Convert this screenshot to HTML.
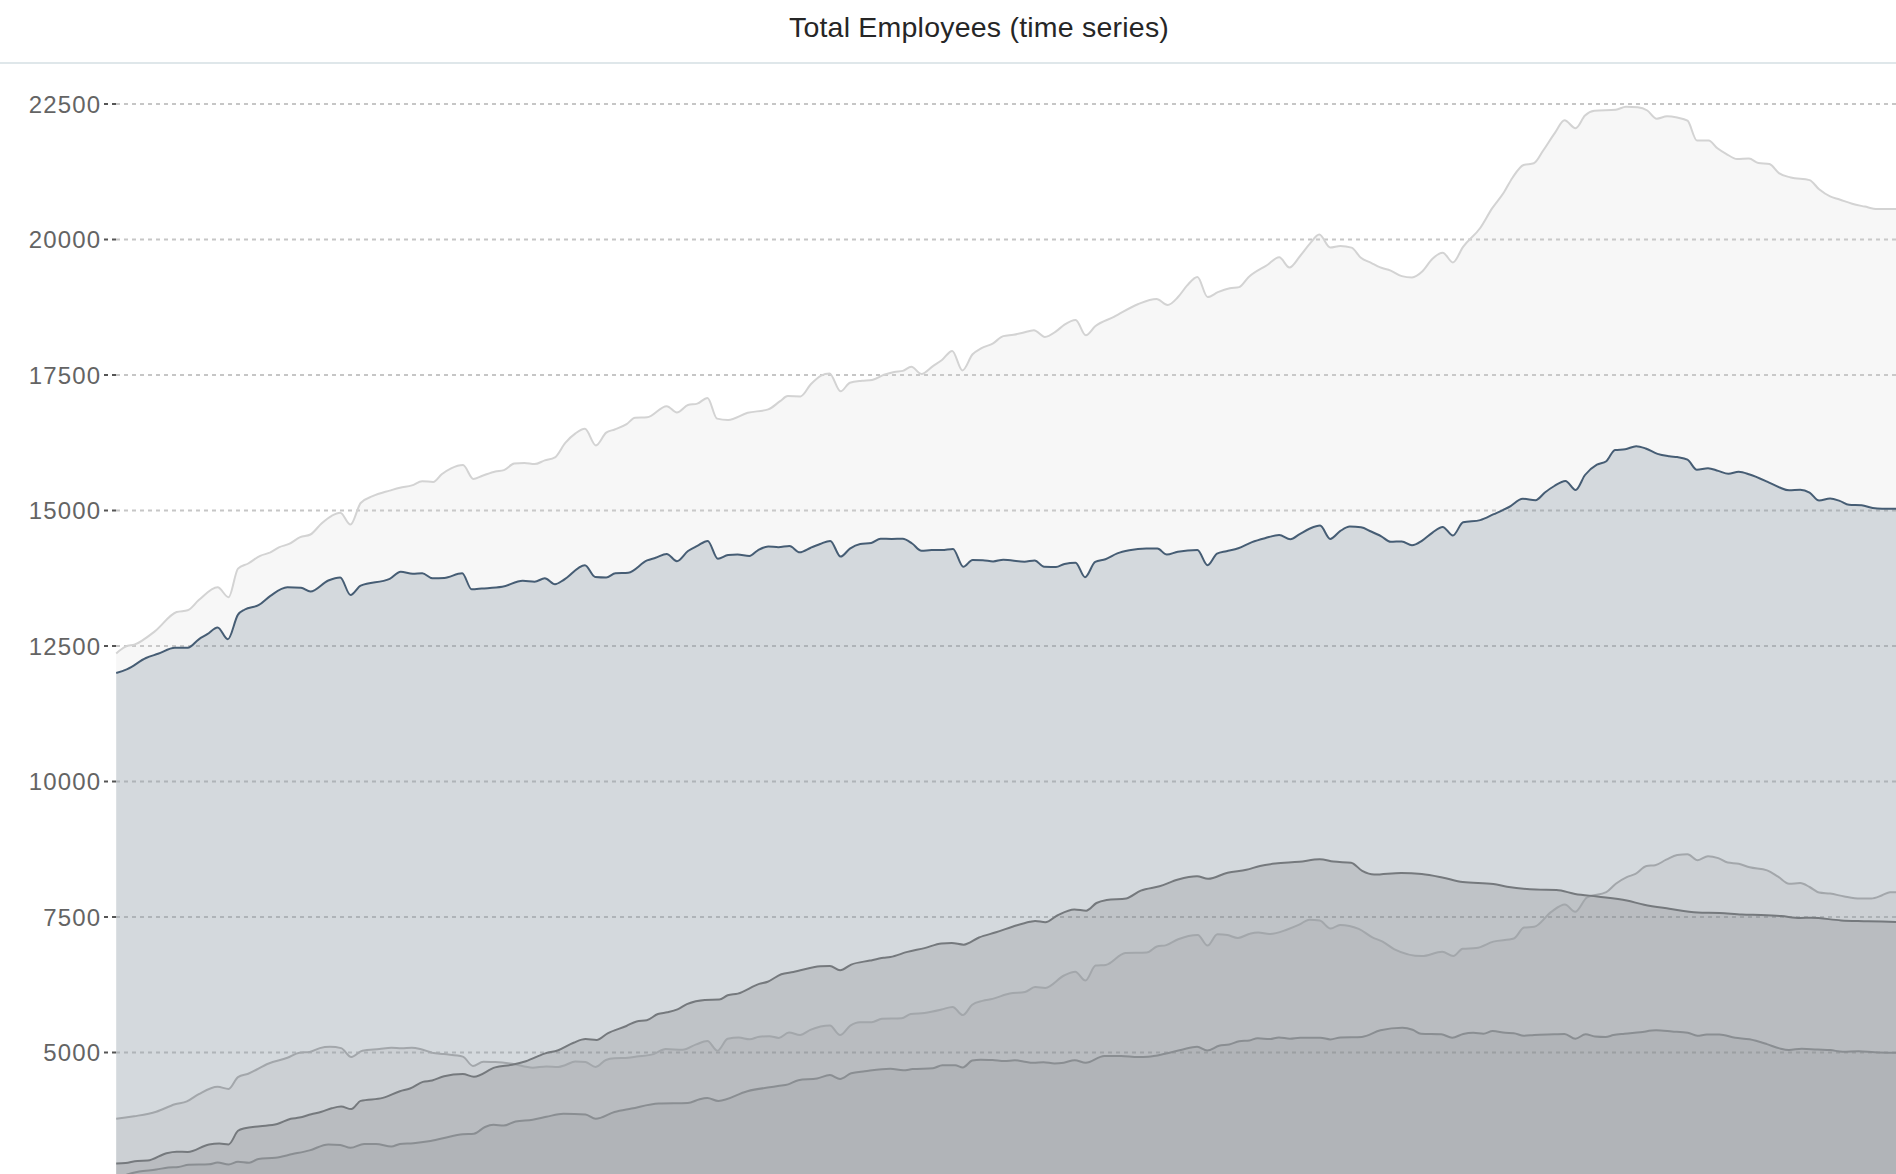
<!DOCTYPE html>
<html><head><meta charset="utf-8"><style>
html,body{margin:0;padding:0;background:#fff;}
body{width:1896px;height:1174px;overflow:hidden;position:relative;font-family:"Liberation Sans",sans-serif;}
.title{position:absolute;left:0;width:1958px;top:9px;text-align:center;font-size:28.5px;line-height:36px;color:#262626;letter-spacing:0.22px;}
.sep{position:absolute;left:0;top:62px;width:1896px;height:2px;background:#dfe7ea;}
.lbl{position:absolute;right:1796px;font-size:24px;line-height:30px;color:#646464;text-align:right;letter-spacing:1.1px;margin-right:-1.1px;}
svg{position:absolute;left:0;top:0;}
</style></head><body>
<div class="title">Total Employees (time series)</div>
<div class="sep"></div>
<div class="lbl" style="top:89.5px">22500</div>
<div class="lbl" style="top:225.0px">20000</div>
<div class="lbl" style="top:360.5px">17500</div>
<div class="lbl" style="top:496.0px">15000</div>
<div class="lbl" style="top:631.5px">12500</div>
<div class="lbl" style="top:767.0px">10000</div>
<div class="lbl" style="top:902.5px">7500</div>
<div class="lbl" style="top:1038.0px">5000</div>
<svg width="1896" height="1174" viewBox="0 0 1896 1174">
<line x1="104" y1="104.0" x2="116" y2="104.0" stroke="#555" stroke-width="2" stroke-dasharray="4 4"/>
<line x1="116" y1="104.0" x2="1896" y2="104.0" stroke="#c6c6c6" stroke-width="2" stroke-dasharray="4 4"/>
<line x1="104" y1="239.5" x2="116" y2="239.5" stroke="#555" stroke-width="2" stroke-dasharray="4 4"/>
<line x1="116" y1="239.5" x2="1896" y2="239.5" stroke="#c6c6c6" stroke-width="2" stroke-dasharray="4 4"/>
<line x1="104" y1="375.0" x2="116" y2="375.0" stroke="#555" stroke-width="2" stroke-dasharray="4 4"/>
<line x1="116" y1="375.0" x2="1896" y2="375.0" stroke="#c6c6c6" stroke-width="2" stroke-dasharray="4 4"/>
<line x1="104" y1="510.5" x2="116" y2="510.5" stroke="#555" stroke-width="2" stroke-dasharray="4 4"/>
<line x1="116" y1="510.5" x2="1896" y2="510.5" stroke="#c6c6c6" stroke-width="2" stroke-dasharray="4 4"/>
<line x1="104" y1="646.0" x2="116" y2="646.0" stroke="#555" stroke-width="2" stroke-dasharray="4 4"/>
<line x1="116" y1="646.0" x2="1896" y2="646.0" stroke="#c6c6c6" stroke-width="2" stroke-dasharray="4 4"/>
<line x1="104" y1="781.5" x2="116" y2="781.5" stroke="#555" stroke-width="2" stroke-dasharray="4 4"/>
<line x1="116" y1="781.5" x2="1896" y2="781.5" stroke="#c6c6c6" stroke-width="2" stroke-dasharray="4 4"/>
<line x1="104" y1="917.0" x2="116" y2="917.0" stroke="#555" stroke-width="2" stroke-dasharray="4 4"/>
<line x1="116" y1="917.0" x2="1896" y2="917.0" stroke="#c6c6c6" stroke-width="2" stroke-dasharray="4 4"/>
<line x1="104" y1="1052.5" x2="116" y2="1052.5" stroke="#555" stroke-width="2" stroke-dasharray="4 4"/>
<line x1="116" y1="1052.5" x2="1896" y2="1052.5" stroke="#c6c6c6" stroke-width="2" stroke-dasharray="4 4"/>
<path d="M116.2,653.4 C119.3,650.7 122.5,648.1 125.6,646.6 C128.7,645.1 131.9,645.6 135.0,644.4 C141.5,642.0 148.0,636.6 154.5,631.6 C161.9,626.0 169.3,614.3 176.7,612.0 C180.4,610.9 184.0,611.4 187.7,610.3 C191.4,609.2 195.1,603.2 198.8,600.1 C205.1,594.9 211.3,587.3 217.6,587.3 C221.3,587.3 224.9,597.2 228.6,597.2 C231.7,597.2 234.9,571.7 238.0,568.6 C241.4,565.2 244.8,565.4 248.2,563.5 C252.2,561.2 256.2,557.7 260.2,555.8 C263.6,554.2 267.0,554.0 270.4,552.4 C273.2,551.0 276.1,548.7 278.9,547.3 C282.3,545.7 285.7,545.5 289.1,543.9 C292.8,542.2 296.5,538.7 300.2,537.1 C303.6,535.7 307.0,536.2 310.4,534.5 C314.1,532.6 317.8,526.7 321.5,523.5 C324.9,520.5 328.3,517.6 331.7,515.8 C334.5,514.3 337.4,512.7 340.2,512.7 C343.6,512.7 347.1,524.6 350.5,524.6 C353.9,524.6 357.3,506.9 360.7,503.0 C364.7,498.5 368.6,498.1 372.6,496.2 C378.3,493.5 384.0,492.3 389.7,490.6 C393.1,489.6 396.5,488.5 399.9,487.7 C403.9,486.7 407.9,486.6 411.9,485.4 C415.3,484.3 418.8,481.2 422.2,481.2 C425.9,481.2 429.5,482.0 433.2,482.0 C436.0,482.0 438.9,476.5 441.7,474.3 C444.8,471.9 448.0,469.9 451.1,468.4 C455.1,466.5 459.0,465.0 463.0,465.0 C466.4,465.0 469.9,478.9 473.3,478.9 C476.1,478.9 479.0,477.0 481.8,476.0 C486.3,474.5 490.9,472.4 495.4,471.4 C498.2,470.8 501.1,471.0 503.9,470.1 C507.3,469.0 510.8,464.1 514.2,463.6 C517.6,463.1 521.0,462.9 524.4,462.9 C527.8,462.9 531.2,464.1 534.6,464.1 C538.0,464.1 541.4,461.5 544.8,460.4 C548.2,459.3 551.6,459.4 555.0,457.3 C558.4,455.2 561.9,446.8 565.3,442.8 C568.7,438.8 572.1,435.8 575.5,433.4 C578.6,431.2 581.8,428.8 584.9,428.8 C588.6,428.8 592.2,445.4 595.9,445.4 C599.3,445.4 602.8,435.1 606.2,432.6 C609.0,430.5 611.9,430.6 614.7,429.5 C618.7,427.9 622.6,426.6 626.6,424.1 C629.4,422.3 632.3,418.0 635.1,417.8 C639.1,417.5 643.1,417.6 647.1,417.3 C653.6,416.8 660.2,406.2 666.7,406.2 C670.1,406.2 673.5,412.5 676.9,412.5 C680.6,412.5 684.3,406.1 688.0,405.0 C691.1,404.1 694.2,404.5 697.3,403.6 C700.7,402.6 704.1,398.0 707.5,398.0 C710.7,398.0 713.8,417.9 717.0,418.6 C720.7,419.5 724.4,419.9 728.1,419.9 C734.6,419.9 741.2,414.5 747.7,412.8 C754.5,411.0 761.4,411.7 768.2,409.4 C772.2,408.1 776.1,403.9 780.1,401.2 C782.6,399.5 785.2,396.1 787.7,396.1 C792.0,396.1 796.2,396.4 800.5,396.4 C803.9,396.4 807.4,387.7 810.8,384.2 C814.2,380.8 817.6,377.4 821.0,375.6 C823.8,374.1 826.7,373.4 829.5,373.4 C833.2,373.4 836.9,391.3 840.6,391.3 C843.7,391.3 846.8,383.8 849.9,382.8 C853.9,381.5 857.9,381.3 861.9,380.8 C865.3,380.4 868.7,380.5 872.1,379.9 C876.1,379.2 880.0,376.2 884.0,374.8 C887.4,373.6 890.8,372.6 894.2,371.9 C897.1,371.3 899.9,371.6 902.8,370.9 C905.6,370.2 908.5,366.8 911.3,366.8 C914.7,366.8 918.1,373.9 921.5,373.9 C925.2,373.9 928.9,368.8 932.6,366.3 C935.7,364.2 938.9,362.4 942.0,360.0 C945.4,357.4 948.8,350.9 952.2,350.9 C955.6,350.9 959.0,370.5 962.4,370.5 C965.8,370.5 969.2,358.0 972.6,354.3 C975.4,351.2 978.3,350.1 981.1,348.4 C985.1,346.1 989.1,345.6 993.1,343.3 C996.5,341.3 999.9,337.0 1003.3,336.1 C1006.7,335.2 1010.1,335.3 1013.5,334.7 C1016.3,334.2 1019.1,333.7 1021.9,333.1 C1025.9,332.3 1029.9,330.2 1033.9,330.2 C1037.6,330.2 1041.2,336.9 1044.9,336.9 C1048.6,336.9 1052.3,333.9 1056.0,331.4 C1058.8,329.5 1061.7,326.4 1064.5,324.6 C1068.2,322.3 1071.9,320.0 1075.6,320.0 C1079.0,320.0 1082.4,335.3 1085.8,335.3 C1088.9,335.3 1092.1,328.8 1095.2,326.3 C1101.4,321.3 1107.7,320.1 1113.9,316.9 C1121.9,312.8 1129.8,307.3 1137.8,304.2 C1144.0,301.8 1150.3,299.0 1156.5,299.0 C1160.2,299.0 1163.9,305.0 1167.6,305.0 C1171.0,305.0 1174.4,300.8 1177.8,297.3 C1180.9,294.1 1184.1,288.7 1187.2,285.4 C1190.6,281.8 1194.0,276.9 1197.4,276.9 C1200.8,276.9 1204.2,297.0 1207.6,297.0 C1211.0,297.0 1214.5,293.6 1217.9,292.2 C1221.9,290.6 1225.8,289.2 1229.8,288.3 C1232.9,287.6 1236.1,287.9 1239.2,287.1 C1242.3,286.3 1245.4,280.1 1248.5,277.2 C1254.8,271.4 1261.0,269.1 1267.3,265.0 C1271.3,262.4 1275.2,257.3 1279.2,257.3 C1282.6,257.3 1286.0,267.5 1289.4,267.5 C1292.8,267.5 1296.3,260.5 1299.7,256.5 C1303.1,252.5 1306.5,247.5 1309.9,243.7 C1313.0,240.2 1316.2,234.6 1319.3,234.6 C1322.9,234.6 1326.6,247.6 1330.2,247.6 C1333.6,247.6 1337.0,245.9 1340.4,245.9 C1344.1,245.9 1347.8,246.5 1351.5,247.6 C1354.6,248.6 1357.8,255.3 1360.9,257.8 C1364.3,260.5 1367.7,261.2 1371.1,262.9 C1373.9,264.3 1376.8,266.0 1379.6,267.2 C1383.3,268.8 1387.0,269.1 1390.7,270.6 C1394.4,272.1 1398.1,275.2 1401.8,276.1 C1405.2,277.0 1408.6,277.4 1412.0,277.4 C1415.4,277.4 1418.8,274.6 1422.2,271.5 C1425.6,268.4 1429.1,261.8 1432.5,258.7 C1435.9,255.6 1439.3,252.7 1442.7,252.7 C1446.1,252.7 1449.5,262.4 1452.9,262.4 C1456.3,262.4 1459.7,251.5 1463.1,246.8 C1468.8,239.0 1474.5,236.1 1480.2,228.0 C1484.2,222.4 1488.1,214.4 1492.1,208.4 C1496.1,202.4 1500.0,198.4 1504.0,192.2 C1506.8,187.8 1509.7,181.8 1512.5,177.7 C1516.2,172.3 1519.9,166.2 1523.6,165.0 C1527.0,163.9 1530.4,164.4 1533.8,163.3 C1536.9,162.3 1540.1,155.0 1543.2,150.5 C1547.2,144.8 1551.1,138.1 1555.1,132.6 C1558.2,128.2 1561.4,120.3 1564.5,120.3 C1568.2,120.3 1571.9,128.3 1575.6,128.3 C1578.7,128.3 1581.9,118.5 1585.0,115.6 C1588.1,112.7 1591.2,111.1 1594.3,110.8 C1601.5,110.1 1608.6,110.4 1615.8,109.7 C1619.2,109.4 1622.6,106.7 1626.0,106.7 C1629.9,106.7 1633.9,106.9 1637.8,107.3 C1641.0,107.6 1644.1,108.6 1647.3,110.5 C1650.4,112.4 1653.6,118.7 1656.7,118.7 C1660.1,118.7 1663.6,116.3 1667.0,116.3 C1670.4,116.3 1673.8,116.9 1677.2,117.6 C1680.6,118.3 1684.1,118.6 1687.5,120.7 C1690.6,122.6 1693.8,140.4 1696.9,140.4 C1700.8,140.4 1704.8,140.4 1708.7,140.4 C1711.6,140.4 1714.5,146.1 1717.4,148.3 C1720.3,150.5 1723.2,152.2 1726.1,153.8 C1729.8,155.9 1733.4,159.0 1737.1,159.0 C1741.0,159.0 1745.0,158.6 1748.9,158.6 C1752.1,158.6 1755.2,162.4 1758.4,163.0 C1762.1,163.7 1765.7,163.4 1769.4,164.1 C1772.6,164.7 1775.7,170.9 1778.9,173.1 C1782.8,175.8 1786.8,176.4 1790.7,177.5 C1797.0,179.2 1803.3,178.4 1809.6,180.1 C1812.8,181.0 1815.9,186.7 1819.1,189.3 C1822.8,192.3 1826.4,194.7 1830.1,196.4 C1833.3,197.9 1836.4,198.4 1839.6,199.5 C1843.8,200.9 1848.0,202.6 1852.2,203.8 C1856.4,205.0 1860.6,205.7 1864.8,206.6 C1869.0,207.5 1873.2,209.0 1877.4,209.0 C1883.6,209.0 1889.8,209.0 1896.0,209.0 L1896.0,1200 L116.2,1200 Z" fill="#d7d7d7" fill-opacity="0.2"/>
<path d="M116.2,673.0 C119.9,671.9 123.6,670.7 127.3,669.1 C133.5,666.3 139.8,660.8 146.0,658.0 C150.0,656.2 154.0,655.2 158.0,653.8 C163.7,651.8 169.3,647.8 175.0,647.8 C179.2,647.8 183.5,647.8 187.7,647.8 C191.4,647.8 195.1,641.8 198.8,639.3 C201.6,637.4 204.5,636.0 207.3,634.2 C210.7,632.0 214.2,627.4 217.6,627.4 C221.0,627.4 224.4,639.3 227.8,639.3 C231.2,639.3 234.6,619.4 238.0,614.6 C240.3,611.4 242.5,610.9 244.8,609.5 C249.4,606.7 253.9,607.8 258.5,605.2 C262.5,602.9 266.4,598.5 270.4,595.8 C276.1,592.0 281.7,587.3 287.4,587.3 C291.9,587.3 296.5,587.4 301.0,587.7 C304.1,587.9 307.3,591.6 310.4,591.6 C316.4,591.6 322.3,582.9 328.3,580.5 C332.3,578.9 336.2,577.5 340.2,577.5 C343.6,577.5 347.1,595.0 350.5,595.0 C353.9,595.0 357.3,587.2 360.7,585.6 C370.4,581.1 380.0,583.3 389.7,578.8 C393.4,577.1 397.0,571.7 400.7,571.7 C404.7,571.7 408.8,573.7 412.8,573.7 C415.9,573.7 419.1,573.2 422.2,573.2 C425.6,573.2 429.0,578.3 432.4,578.3 C436.4,578.3 440.3,578.2 444.3,577.9 C450.3,577.5 456.2,573.2 462.2,573.2 C465.3,573.2 468.5,589.3 471.6,589.3 C475.0,589.3 478.4,588.8 481.8,588.5 C488.6,588.0 495.4,587.9 502.2,586.8 C509.0,585.7 515.9,580.8 522.7,580.8 C526.7,580.8 530.6,581.7 534.6,581.7 C538.0,581.7 541.4,578.3 544.8,578.3 C548.2,578.3 551.6,584.2 555.0,584.2 C557.9,584.2 560.7,581.6 563.6,580.0 C570.7,576.1 577.8,565.2 584.9,565.2 C588.3,565.2 591.7,576.6 595.1,576.9 C598.8,577.2 602.5,577.4 606.2,577.4 C609.3,577.4 612.4,573.4 615.5,573.2 C619.8,572.9 624.0,573.0 628.3,572.7 C634.6,572.2 640.8,563.0 647.1,560.4 C649.9,559.2 652.8,558.7 655.6,557.8 C659.3,556.6 663.0,553.9 666.7,553.9 C670.1,553.9 673.5,561.2 676.9,561.2 C680.6,561.2 684.3,553.7 688.0,551.0 C691.1,548.8 694.2,547.5 697.3,545.9 C700.8,544.1 704.2,540.9 707.7,540.9 C711.1,540.9 714.5,558.8 717.9,558.8 C721.3,558.8 724.7,555.5 728.1,555.1 C731.2,554.8 734.4,554.6 737.5,554.6 C741.5,554.6 745.4,555.9 749.4,555.9 C752.2,555.9 755.1,551.8 757.9,550.3 C761.3,548.5 764.8,546.4 768.2,546.4 C771.6,546.4 775.0,547.2 778.4,547.2 C782.1,547.2 785.8,546.0 789.5,546.0 C792.9,546.0 796.3,552.3 799.7,552.3 C803.4,552.3 807.1,549.2 810.8,547.7 C813.9,546.4 817.0,545.1 820.1,544.0 C823.5,542.8 826.9,540.9 830.3,540.9 C833.7,540.9 837.2,556.6 840.6,556.6 C843.7,556.6 846.8,550.7 849.9,548.6 C853.3,546.3 856.8,544.6 860.2,544.0 C863.9,543.3 867.5,543.7 871.2,543.0 C874.3,542.4 877.5,538.7 880.6,538.7 C884.3,538.7 888.0,538.9 891.7,538.9 C895.4,538.9 899.1,538.7 902.8,538.7 C905.9,538.7 909.0,541.5 912.1,543.5 C915.2,545.5 918.4,550.8 921.5,550.8 C924.9,550.8 928.3,550.0 931.7,550.0 C935.1,550.0 938.5,550.0 941.9,550.0 C945.6,550.0 949.3,548.9 953.0,548.9 C956.4,548.9 959.9,566.8 963.3,566.8 C966.4,566.8 969.5,560.0 972.6,560.0 C976.0,560.0 979.4,560.1 982.8,560.2 C986.2,560.3 989.7,561.4 993.1,561.4 C996.5,561.4 999.9,559.7 1003.3,559.7 C1010.4,559.7 1017.4,561.7 1024.5,561.7 C1027.9,561.7 1031.3,560.5 1034.7,560.5 C1037.8,560.5 1041.0,566.7 1044.1,566.8 C1048.1,566.9 1052.0,567.0 1056.0,567.0 C1058.8,567.0 1061.7,564.5 1064.5,563.9 C1068.2,563.1 1071.9,562.7 1075.6,562.7 C1078.7,562.7 1081.9,577.2 1085.0,577.2 C1088.4,577.2 1091.8,563.6 1095.2,561.9 C1098.6,560.2 1102.0,560.5 1105.4,559.3 C1109.4,557.8 1113.3,554.9 1117.3,553.4 C1121.3,551.9 1125.3,551.1 1129.3,550.3 C1135.0,549.2 1140.6,548.6 1146.3,548.6 C1150.0,548.6 1153.7,548.6 1157.4,548.6 C1160.5,548.6 1163.7,554.6 1166.8,554.6 C1170.5,554.6 1174.1,552.3 1177.8,551.7 C1184.3,550.6 1190.9,550.0 1197.4,550.0 C1200.8,550.0 1204.2,565.3 1207.6,565.3 C1210.7,565.3 1213.9,555.4 1217.0,553.7 C1220.1,552.0 1223.3,552.0 1226.4,551.2 C1230.4,550.2 1234.3,549.7 1238.3,548.3 C1242.9,546.7 1247.4,543.8 1252.0,542.1 C1256.5,540.4 1261.1,539.2 1265.6,538.0 C1270.1,536.8 1274.7,535.0 1279.2,535.0 C1282.9,535.0 1286.6,539.2 1290.3,539.2 C1293.4,539.2 1296.6,535.8 1299.7,534.1 C1303.1,532.2 1306.5,529.9 1309.9,528.5 C1313.3,527.1 1316.7,525.6 1320.1,525.6 C1323.5,525.6 1326.8,538.9 1330.2,538.9 C1333.6,538.9 1337.0,533.0 1340.4,530.9 C1343.5,529.0 1346.7,526.6 1349.8,526.6 C1353.5,526.6 1357.2,526.8 1360.9,527.3 C1364.3,527.7 1367.7,530.0 1371.1,531.5 C1374.5,533.0 1377.9,534.5 1381.3,536.3 C1384.4,538.0 1387.6,541.8 1390.7,541.8 C1394.4,541.8 1398.1,541.4 1401.8,541.4 C1405.2,541.4 1408.6,545.3 1412.0,545.3 C1415.4,545.3 1418.8,542.7 1422.2,540.6 C1425.6,538.5 1429.1,534.9 1432.5,532.6 C1435.9,530.3 1439.3,526.9 1442.7,526.9 C1446.1,526.9 1449.5,535.5 1452.9,535.5 C1456.3,535.5 1459.7,523.2 1463.1,522.3 C1468.8,520.8 1474.5,521.6 1480.2,520.1 C1484.7,518.9 1489.3,516.2 1493.8,514.2 C1498.9,511.9 1504.0,509.7 1509.1,507.0 C1513.7,504.5 1518.2,498.8 1522.8,498.8 C1527.0,498.8 1531.3,500.2 1535.5,500.2 C1538.6,500.2 1541.8,494.9 1544.9,492.5 C1548.0,490.1 1551.2,487.8 1554.3,486.0 C1558.0,483.8 1561.7,480.9 1565.4,480.9 C1568.8,480.9 1572.2,490.0 1575.6,490.0 C1578.7,490.0 1581.9,479.0 1585.0,475.0 C1589.0,469.9 1592.9,467.0 1596.9,464.7 C1600.0,462.9 1603.2,463.5 1606.3,461.2 C1609.2,459.0 1612.1,450.4 1615.0,450.0 C1618.4,449.5 1621.8,449.8 1625.2,449.3 C1628.9,448.8 1632.5,446.2 1636.2,446.2 C1639.4,446.2 1642.5,447.4 1645.7,448.5 C1649.6,449.8 1653.6,452.6 1657.5,453.9 C1661.4,455.2 1665.4,455.7 1669.3,456.3 C1671.9,456.7 1674.6,456.7 1677.2,457.1 C1680.6,457.7 1684.1,457.9 1687.5,459.6 C1690.6,461.1 1693.8,469.8 1696.9,469.8 C1700.6,469.8 1704.3,468.2 1708.0,468.2 C1711.4,468.2 1714.8,470.0 1718.2,470.9 C1721.6,471.8 1725.0,473.8 1728.4,473.8 C1731.8,473.8 1735.3,471.7 1738.7,471.7 C1742.4,471.7 1746.0,473.3 1749.7,474.5 C1755.5,476.3 1761.3,479.0 1767.1,481.6 C1771.3,483.5 1775.5,485.9 1779.7,487.5 C1782.8,488.7 1786.0,490.3 1789.1,490.3 C1792.8,490.3 1796.5,489.8 1800.2,489.8 C1803.3,489.8 1806.5,490.9 1809.6,492.7 C1812.8,494.5 1815.9,500.6 1819.1,500.6 C1822.8,500.6 1826.4,498.5 1830.1,498.5 C1833.3,498.5 1836.4,499.8 1839.6,500.9 C1842.7,501.9 1845.9,504.6 1849.0,504.8 C1853.2,505.1 1857.4,505.0 1861.6,505.3 C1865.3,505.6 1869.0,507.4 1872.7,508.0 C1875.8,508.5 1879.0,508.7 1882.1,508.7 C1886.7,508.7 1891.4,508.7 1896.0,508.7 L1896.0,1200 L116.2,1200 Z" fill="#41596f" fill-opacity="0.19"/>
<path d="M116.2,1118.8 C122.2,1118.1 128.1,1117.3 134.1,1116.3 C141.5,1115.0 148.8,1114.0 156.2,1111.7 C162.5,1109.8 168.7,1106.2 175.0,1104.3 C179.0,1103.1 182.9,1103.1 186.9,1101.4 C190.9,1099.7 194.8,1096.2 198.8,1094.1 C205.1,1090.8 211.3,1086.8 217.6,1086.8 C221.3,1086.8 224.9,1089.0 228.6,1089.0 C231.7,1089.0 234.9,1079.2 238.0,1077.1 C241.4,1074.8 244.8,1075.0 248.2,1073.7 C255.0,1071.0 261.9,1066.2 268.7,1063.5 C274.9,1061.0 281.2,1060.2 287.4,1057.8 C291.4,1056.3 295.4,1053.2 299.4,1052.7 C302.8,1052.2 306.2,1052.5 309.6,1052.0 C313.0,1051.5 316.4,1049.0 319.8,1048.1 C323.2,1047.2 326.6,1046.8 330.0,1046.8 C333.7,1046.8 337.4,1047.2 341.1,1048.1 C344.5,1048.9 347.9,1057.0 351.3,1057.0 C355.0,1057.0 358.7,1051.4 362.4,1050.7 C368.1,1049.6 373.7,1049.6 379.4,1049.0 C383.4,1048.6 387.4,1047.8 391.4,1047.8 C394.8,1047.8 398.2,1048.3 401.6,1048.3 C405.0,1048.3 408.4,1047.8 411.8,1047.8 C414.6,1047.8 417.4,1048.4 420.2,1049.0 C424.2,1049.8 428.2,1051.8 432.2,1052.7 C436.2,1053.5 440.1,1053.6 444.1,1054.1 C450.3,1054.9 456.6,1054.9 462.8,1056.6 C466.2,1057.5 469.6,1066.0 473.0,1066.0 C476.4,1066.0 479.9,1061.7 483.3,1061.7 C487.3,1061.7 491.2,1061.9 495.2,1062.1 C500.9,1062.4 506.5,1063.0 512.2,1063.8 C519.0,1064.8 525.9,1067.7 532.7,1067.7 C537.2,1067.7 541.8,1066.5 546.3,1066.5 C550.3,1066.5 554.2,1066.9 558.2,1066.9 C560.5,1066.9 562.7,1065.9 565.0,1065.2 C568.4,1064.2 571.9,1061.4 575.3,1061.4 C578.7,1061.4 582.1,1061.6 585.5,1062.1 C588.9,1062.6 592.3,1066.9 595.7,1066.9 C599.1,1066.9 602.5,1061.3 605.9,1060.0 C608.8,1058.9 611.6,1058.5 614.5,1058.3 C619.0,1058.0 623.6,1058.1 628.1,1057.8 C630.9,1057.6 633.8,1057.0 636.6,1056.6 C642.3,1055.8 648.0,1055.8 653.7,1054.1 C657.7,1052.9 661.6,1049.0 665.6,1049.0 C671.3,1049.0 676.9,1049.8 682.6,1049.8 C687.1,1049.8 691.7,1046.0 696.2,1044.4 C699.9,1043.1 703.6,1041.0 707.3,1041.0 C710.7,1041.0 714.1,1050.7 717.5,1050.7 C720.9,1050.7 724.3,1039.5 727.7,1038.8 C731.4,1038.0 735.0,1037.6 738.7,1037.6 C742.4,1037.6 746.1,1039.3 749.8,1039.3 C752.9,1039.3 756.1,1037.0 759.2,1036.7 C762.6,1036.4 766.0,1036.2 769.4,1036.2 C772.5,1036.2 775.7,1037.9 778.8,1037.9 C782.2,1037.9 785.6,1032.5 789.0,1032.5 C792.7,1032.5 796.4,1035.0 800.1,1035.0 C803.5,1035.0 806.9,1031.3 810.3,1029.9 C816.8,1027.3 823.4,1025.6 829.9,1025.6 C833.3,1025.6 836.7,1035.0 840.1,1035.0 C843.5,1035.0 846.9,1027.7 850.3,1025.6 C853.4,1023.6 856.6,1022.2 859.7,1022.2 C863.7,1022.2 867.6,1022.2 871.6,1022.2 C875.0,1022.2 878.5,1019.0 881.9,1018.8 C888.4,1018.5 895.0,1018.6 901.5,1018.3 C904.6,1018.1 907.7,1014.6 910.8,1014.1 C915.4,1013.3 919.9,1013.5 924.5,1012.9 C930.2,1012.1 935.8,1010.8 941.5,1009.5 C945.2,1008.7 948.9,1006.9 952.6,1006.9 C956.0,1006.9 959.4,1015.1 962.8,1015.1 C965.9,1015.1 969.1,1007.0 972.2,1004.7 C975.6,1002.2 979.0,1001.9 982.4,1000.9 C985.8,999.9 989.2,999.7 992.6,998.9 C998.3,997.5 1004.0,994.7 1009.7,993.6 C1014.8,992.6 1019.9,993.1 1025.0,992.1 C1028.4,991.4 1031.7,987.0 1035.1,987.0 C1038.5,987.0 1041.9,987.9 1045.3,987.9 C1051.6,987.9 1057.8,978.4 1064.1,975.5 C1067.8,973.8 1071.5,971.7 1075.2,971.7 C1078.6,971.7 1082.0,980.6 1085.4,980.6 C1088.8,980.6 1092.2,966.1 1095.6,965.6 C1099.0,965.1 1102.4,965.4 1105.8,964.9 C1112.3,964.0 1118.9,953.3 1125.4,953.0 C1132.5,952.7 1139.6,952.8 1146.7,952.5 C1150.1,952.3 1153.5,947.5 1156.9,946.5 C1160.0,945.6 1163.2,946.0 1166.3,945.1 C1170.3,943.9 1174.2,940.8 1178.2,939.2 C1184.7,936.6 1191.3,934.9 1197.8,934.9 C1201.0,934.9 1204.3,945.6 1207.5,945.6 C1210.8,945.6 1214.1,934.2 1217.4,934.2 C1220.8,934.2 1224.2,934.5 1227.6,935.1 C1231.0,935.7 1234.5,938.0 1237.9,938.0 C1241.9,938.0 1245.8,934.6 1249.8,933.7 C1252.6,933.0 1255.5,932.5 1258.3,932.5 C1262.0,932.5 1265.7,934.0 1269.4,934.0 C1275.4,934.0 1281.3,931.5 1287.3,929.5 C1291.3,928.1 1295.2,926.5 1299.2,924.7 C1302.6,923.2 1306.0,919.7 1309.4,919.7 C1312.8,919.7 1316.3,920.0 1319.7,920.6 C1323.4,921.2 1327.0,928.6 1330.7,928.6 C1333.8,928.6 1337.0,924.9 1340.1,924.9 C1346.3,924.9 1352.5,926.2 1358.7,928.8 C1363.3,930.7 1367.8,935.0 1372.4,937.3 C1375.8,939.0 1379.2,939.8 1382.6,941.6 C1386.6,943.7 1390.5,947.3 1394.5,949.3 C1403.6,953.8 1412.7,956.1 1421.8,956.1 C1428.6,956.1 1435.4,951.8 1442.2,951.8 C1445.9,951.8 1449.6,956.1 1453.3,956.1 C1456.4,956.1 1459.6,949.1 1462.7,948.8 C1467.2,948.3 1471.8,948.6 1476.3,948.1 C1482.0,947.5 1487.6,943.2 1493.3,941.6 C1500.1,939.7 1507.0,940.6 1513.8,938.5 C1517.2,937.5 1520.6,928.1 1524.0,927.6 C1527.4,927.1 1530.8,927.3 1534.2,926.8 C1539.9,925.9 1545.6,915.7 1551.3,911.8 C1555.8,908.7 1560.4,904.5 1564.9,904.5 C1568.3,904.5 1571.7,911.8 1575.1,911.8 C1579.1,911.8 1583.1,899.4 1587.1,897.3 C1593.5,893.9 1599.9,895.6 1606.3,892.2 C1609.5,890.5 1612.6,886.2 1615.8,883.8 C1619.5,881.0 1623.1,878.8 1626.8,877.1 C1629.7,875.7 1632.6,875.4 1635.5,873.9 C1639.2,872.0 1642.8,866.7 1646.5,866.0 C1649.4,865.5 1652.3,865.7 1655.2,865.2 C1658.9,864.5 1662.5,861.4 1666.2,859.7 C1669.9,858.0 1673.5,855.6 1677.2,855.0 C1680.6,854.5 1684.1,854.2 1687.5,854.2 C1690.9,854.2 1694.3,860.2 1697.7,860.2 C1701.1,860.2 1704.6,856.2 1708.0,856.2 C1711.4,856.2 1714.8,857.0 1718.2,858.1 C1721.4,859.2 1724.5,861.9 1727.7,862.6 C1731.4,863.4 1735.0,863.0 1738.7,863.8 C1742.4,864.6 1746.0,866.3 1749.7,867.3 C1755.5,868.8 1761.3,868.3 1767.1,870.4 C1770.8,871.7 1774.4,874.5 1778.1,876.7 C1781.8,878.9 1785.4,883.8 1789.1,883.8 C1792.8,883.8 1796.5,883.0 1800.2,883.0 C1803.3,883.0 1806.5,885.4 1809.6,887.0 C1812.8,888.6 1815.9,891.9 1819.1,892.5 C1822.8,893.2 1826.4,893.1 1830.1,893.6 C1834.8,894.3 1839.6,895.6 1844.3,896.4 C1849.5,897.3 1854.8,898.5 1860.0,898.5 C1863.7,898.5 1867.4,898.5 1871.1,898.5 C1874.8,898.5 1878.4,896.6 1882.1,895.3 C1884.7,894.4 1887.4,892.2 1890.0,892.2 C1892.0,892.2 1894.0,892.2 1896.0,892.2 L1896.0,1200 L116.2,1200 Z" fill="#a2a4a6" fill-opacity="0.16"/>
<path d="M116.2,1163.6 C119.3,1163.5 122.5,1163.4 125.6,1163.1 C129.6,1162.7 133.5,1161.1 137.5,1160.9 C140.9,1160.7 144.3,1160.8 147.7,1160.6 C154.0,1160.2 160.2,1154.7 166.5,1153.2 C169.9,1152.4 173.3,1151.7 176.7,1151.7 C180.4,1151.7 184.0,1152.0 187.7,1152.0 C194.8,1152.0 201.9,1145.6 209.0,1144.4 C212.4,1143.8 215.9,1143.5 219.3,1143.5 C222.4,1143.5 225.5,1144.4 228.6,1144.4 C231.7,1144.4 234.9,1133.2 238.0,1130.8 C240.3,1129.1 242.5,1128.8 244.8,1128.2 C249.9,1126.9 255.1,1126.9 260.2,1126.2 C265.9,1125.5 271.5,1125.5 277.2,1124.0 C281.7,1122.8 286.3,1119.9 290.8,1118.8 C293.7,1118.1 296.5,1118.2 299.4,1117.6 C303.4,1116.8 307.3,1115.2 311.3,1114.2 C314.7,1113.3 318.1,1112.7 321.5,1111.7 C324.9,1110.7 328.3,1109.2 331.7,1108.3 C334.8,1107.5 338.0,1106.6 341.1,1106.6 C344.5,1106.6 347.9,1109.1 351.3,1109.1 C354.4,1109.1 357.6,1101.8 360.7,1100.9 C368.1,1098.9 375.4,1099.9 382.8,1097.9 C388.5,1096.4 394.2,1093.0 399.9,1091.2 C403.3,1090.1 406.6,1089.8 410.0,1088.5 C414.3,1086.9 418.5,1083.2 422.8,1081.9 C425.9,1081.0 429.1,1081.3 432.2,1080.5 C436.2,1079.5 440.1,1077.1 444.1,1076.2 C450.3,1074.7 456.6,1074.0 462.8,1074.0 C466.5,1074.0 470.2,1076.7 473.9,1076.7 C481.0,1076.7 488.1,1069.4 495.2,1067.4 C500.9,1065.8 506.5,1066.0 512.2,1064.8 C516.8,1063.8 521.3,1062.7 525.9,1061.2 C532.1,1059.2 538.4,1055.6 544.6,1053.6 C549.1,1052.2 553.7,1051.8 558.2,1050.2 C563.3,1048.3 568.5,1044.7 573.6,1042.7 C577.6,1041.2 581.5,1039.1 585.5,1039.1 C589.2,1039.1 592.9,1039.9 596.6,1039.9 C600.3,1039.9 603.9,1035.2 607.6,1033.3 C613.9,1030.0 620.1,1028.7 626.4,1026.0 C629.8,1024.5 633.2,1022.1 636.6,1021.4 C640.0,1020.7 643.4,1021.0 646.8,1020.3 C650.5,1019.5 654.2,1015.3 657.9,1014.0 C661.0,1012.9 664.2,1013.0 667.3,1012.3 C670.7,1011.5 674.1,1010.8 677.5,1009.4 C680.6,1008.1 683.8,1005.6 686.9,1004.2 C692.9,1001.5 698.8,1000.1 704.8,999.9 C709.6,999.7 714.5,999.8 719.3,999.6 C722.1,999.5 724.9,996.2 727.7,995.3 C731.1,994.2 734.5,994.5 737.9,993.6 C745.0,991.8 752.1,986.1 759.2,983.9 C762.0,983.0 764.9,982.8 767.7,981.7 C772.2,980.0 776.8,975.8 781.3,974.2 C785.3,972.8 789.3,972.8 793.3,972.0 C802.4,970.3 811.4,966.9 820.5,966.3 C823.6,966.1 826.8,966.0 829.9,966.0 C833.3,966.0 836.7,970.3 840.1,970.3 C843.8,970.3 847.5,966.1 851.2,964.6 C857.4,962.1 863.7,961.9 869.9,960.6 C874.5,959.6 879.0,958.5 883.6,957.8 C885.9,957.5 888.1,957.4 890.4,957.0 C896.1,956.0 901.7,953.4 907.4,951.9 C913.1,950.4 918.8,949.5 924.5,948.1 C930.2,946.7 935.8,944.1 941.5,943.5 C944.9,943.2 948.3,943.0 951.7,943.0 C955.7,943.0 959.7,944.7 963.7,944.7 C968.8,944.7 973.9,939.5 979.0,937.5 C984.7,935.3 990.3,934.1 996.0,932.3 C1001.7,930.5 1007.4,928.3 1013.1,926.5 C1018.7,924.8 1024.4,922.9 1030.0,921.8 C1031.7,921.5 1033.4,920.9 1035.1,920.9 C1038.5,920.9 1041.9,922.3 1045.3,922.3 C1049.3,922.3 1053.3,917.4 1057.3,915.5 C1063.0,912.8 1068.6,909.5 1074.3,909.5 C1078.3,909.5 1082.2,910.7 1086.2,910.7 C1089.6,910.7 1093.1,904.8 1096.5,903.0 C1099.9,901.2 1103.3,900.6 1106.7,900.0 C1113.2,898.9 1119.8,899.5 1126.3,898.4 C1131.1,897.6 1136.0,892.5 1140.8,890.6 C1147.0,888.1 1153.3,888.1 1159.5,886.3 C1165.7,884.4 1172.0,881.2 1178.2,879.5 C1184.5,877.8 1190.7,876.3 1197.0,876.3 C1200.7,876.3 1204.4,878.8 1208.1,878.8 C1214.6,878.8 1221.1,874.2 1227.6,872.7 C1233.9,871.2 1240.1,871.2 1246.4,869.8 C1250.9,868.8 1255.5,866.9 1260.0,865.9 C1265.1,864.7 1270.3,864.1 1275.4,863.5 C1283.3,862.5 1291.3,862.6 1299.2,861.8 C1306.0,861.1 1312.9,859.3 1319.7,859.3 C1324.2,859.3 1328.8,861.0 1333.3,861.6 C1339.2,862.3 1345.2,862.0 1351.1,862.7 C1354.8,863.2 1358.5,868.9 1362.2,870.9 C1366.2,873.0 1370.1,874.6 1374.1,874.6 C1383.2,874.6 1392.2,872.9 1401.3,872.9 C1408.1,872.9 1415.0,873.3 1421.8,874.0 C1428.6,874.7 1435.4,876.1 1442.2,877.4 C1449.0,878.7 1455.9,881.1 1462.7,882.0 C1472.9,883.3 1483.1,882.7 1493.3,884.0 C1497.9,884.6 1502.4,885.9 1507.0,886.7 C1516.6,888.3 1526.3,889.2 1535.9,889.6 C1542.7,889.9 1549.6,889.7 1556.4,890.0 C1562.6,890.2 1568.9,892.9 1575.1,893.9 C1582.5,895.1 1589.9,895.6 1597.3,896.5 C1607.1,897.7 1617.0,898.3 1626.8,900.4 C1632.6,901.6 1638.3,903.6 1644.1,904.8 C1652.5,906.6 1660.9,907.5 1669.3,908.7 C1678.8,910.1 1688.2,912.1 1697.7,912.5 C1705.1,912.8 1712.4,912.7 1719.8,913.0 C1727.1,913.3 1734.5,914.3 1741.8,914.6 C1748.1,914.9 1754.5,914.8 1760.8,915.0 C1767.6,915.3 1774.4,915.6 1781.2,916.1 C1787.5,916.6 1793.9,918.0 1800.2,918.0 C1803.9,918.0 1807.5,917.7 1811.2,917.7 C1821.2,917.7 1831.1,919.8 1841.1,920.4 C1850.0,920.9 1859.0,920.9 1867.9,921.2 C1877.3,921.5 1886.6,921.7 1896.0,922.0 L1896.0,1200 L116.2,1200 Z" fill="#6e7072" fill-opacity="0.2"/>
<path d="M116.0,1179.0 C119.8,1177.4 123.5,1175.7 127.3,1174.5 C131.3,1173.2 135.2,1172.4 139.2,1171.6 C144.9,1170.5 150.5,1170.5 156.2,1169.6 C160.2,1169.0 164.2,1167.8 168.2,1167.4 C171.6,1167.1 175.0,1167.2 178.4,1166.9 C181.8,1166.6 185.2,1165.0 188.6,1164.8 C195.4,1164.5 202.2,1164.6 209.0,1164.3 C211.9,1164.2 214.7,1162.6 217.6,1162.6 C221.3,1162.6 224.9,1164.5 228.6,1164.5 C231.7,1164.5 234.9,1161.8 238.0,1161.8 C241.7,1161.8 245.4,1162.8 249.1,1162.8 C252.2,1162.8 255.4,1159.3 258.5,1158.9 C264.2,1158.1 269.8,1158.5 275.5,1157.7 C281.2,1156.9 286.8,1155.3 292.5,1154.1 C298.2,1152.9 303.9,1151.9 309.6,1150.4 C315.8,1148.7 322.1,1144.4 328.3,1144.4 C332.3,1144.4 336.2,1144.6 340.2,1144.9 C343.6,1145.2 347.1,1147.8 350.5,1147.8 C355.0,1147.8 359.6,1143.9 364.1,1143.9 C368.1,1143.9 372.0,1143.9 376.0,1143.9 C381.1,1143.9 386.3,1146.6 391.4,1146.6 C394.2,1146.6 397.1,1144.2 399.9,1143.9 C404.4,1143.4 409.0,1143.6 413.5,1143.2 C418.6,1142.8 423.6,1142.2 428.7,1141.3 C433.8,1140.4 439.0,1139.0 444.1,1137.9 C450.3,1136.6 456.6,1134.8 462.8,1134.2 C466.5,1133.9 470.2,1134.0 473.9,1133.7 C477.6,1133.4 481.3,1128.5 485.0,1127.0 C487.8,1125.8 490.7,1124.8 493.5,1124.8 C496.9,1124.8 500.3,1125.6 503.7,1125.6 C507.7,1125.6 511.6,1122.2 515.6,1121.4 C521.3,1120.3 527.0,1120.6 532.7,1119.7 C537.2,1119.0 541.8,1117.7 546.3,1116.8 C552.0,1115.7 557.7,1113.7 563.4,1113.7 C570.8,1113.7 578.1,1114.0 585.5,1114.6 C588.9,1114.9 592.3,1118.8 595.7,1118.8 C602.0,1118.8 608.2,1113.7 614.5,1112.0 C620.2,1110.4 625.8,1109.7 631.5,1108.6 C640.6,1106.8 649.7,1103.8 658.8,1103.5 C668.4,1103.2 678.1,1103.3 687.7,1103.0 C691.7,1102.9 695.7,1100.1 699.7,1099.2 C702.2,1098.6 704.8,1098.0 707.3,1098.0 C711.0,1098.0 714.7,1100.9 718.4,1100.9 C728.0,1100.9 737.7,1093.6 747.3,1091.2 C757.5,1088.6 767.7,1087.8 777.9,1086.1 C781.3,1085.5 784.8,1085.4 788.2,1084.4 C791.6,1083.4 795.0,1080.8 798.4,1080.2 C804.6,1079.1 810.9,1079.6 817.1,1078.5 C821.4,1077.7 825.6,1075.1 829.9,1075.1 C833.3,1075.1 836.7,1079.0 840.1,1079.0 C843.8,1079.0 847.5,1074.4 851.2,1073.3 C855.7,1072.0 860.3,1071.9 864.8,1071.3 C873.3,1070.2 881.9,1068.7 890.4,1068.7 C894.7,1068.7 898.9,1070.3 903.2,1070.3 C906.3,1070.3 909.4,1069.4 912.5,1069.1 C919.3,1068.5 926.2,1068.8 933.0,1068.2 C936.1,1067.9 939.3,1065.2 942.4,1065.2 C946.6,1065.2 950.9,1065.2 955.1,1065.2 C957.7,1065.2 960.2,1067.4 962.8,1067.4 C965.9,1067.4 969.1,1061.3 972.2,1060.6 C975.0,1060.0 977.9,1059.7 980.7,1059.7 C984.7,1059.7 988.6,1059.9 992.6,1060.1 C996.6,1060.3 1000.5,1061.1 1004.5,1061.1 C1007.9,1061.1 1011.4,1060.2 1014.8,1060.2 C1017.6,1060.2 1020.5,1061.0 1023.3,1061.4 C1026.7,1061.9 1030.1,1062.8 1033.5,1062.8 C1036.8,1062.8 1040.2,1062.2 1043.5,1062.2 C1047.2,1062.2 1050.8,1063.5 1054.5,1063.5 C1057.6,1063.5 1060.7,1063.2 1063.8,1062.7 C1067.4,1062.1 1071.1,1060.2 1074.7,1060.2 C1078.4,1060.2 1082.0,1062.7 1085.7,1062.7 C1091.9,1062.7 1098.1,1055.9 1104.3,1055.9 C1109.9,1055.9 1115.5,1055.9 1121.1,1055.9 C1126.7,1055.9 1132.4,1057.1 1138.0,1057.1 C1141.4,1057.1 1144.7,1057.0 1148.1,1056.8 C1153.7,1056.5 1159.4,1055.0 1165.0,1053.8 C1170.6,1052.6 1176.3,1050.9 1181.9,1049.7 C1187.0,1048.6 1192.0,1046.7 1197.1,1046.7 C1200.5,1046.7 1203.8,1050.5 1207.2,1050.5 C1211.1,1050.5 1215.1,1046.8 1219.0,1045.8 C1222.4,1044.9 1225.8,1045.3 1229.2,1044.5 C1232.6,1043.8 1235.9,1041.9 1239.3,1041.3 C1242.7,1040.7 1246.0,1041.0 1249.4,1040.4 C1252.2,1039.9 1255.0,1038.2 1257.8,1038.2 C1261.8,1038.2 1265.7,1039.1 1269.7,1039.1 C1272.8,1039.1 1275.8,1037.4 1278.9,1037.4 C1282.6,1037.4 1286.2,1038.7 1289.9,1038.7 C1293.3,1038.7 1296.6,1037.7 1300.0,1037.7 C1306.8,1037.7 1313.5,1037.7 1320.3,1037.7 C1323.7,1037.7 1327.0,1039.4 1330.4,1039.4 C1333.8,1039.4 1337.1,1037.6 1340.5,1037.4 C1347.6,1037.1 1354.8,1037.2 1361.9,1036.9 C1368.1,1036.6 1374.3,1031.7 1380.5,1030.3 C1387.8,1028.6 1395.1,1027.8 1402.4,1027.8 C1405.8,1027.8 1409.2,1028.6 1412.6,1029.8 C1415.4,1030.8 1418.2,1033.5 1421.0,1033.7 C1427.8,1034.1 1434.5,1033.9 1441.3,1034.3 C1444.9,1034.5 1448.6,1037.7 1452.2,1037.7 C1455.9,1037.7 1459.5,1034.8 1463.2,1034.0 C1466.6,1033.2 1469.9,1032.8 1473.3,1032.8 C1476.7,1032.8 1480.1,1033.7 1483.5,1033.7 C1486.6,1033.7 1489.6,1031.1 1492.7,1031.1 C1496.9,1031.1 1501.2,1032.5 1505.4,1032.8 C1508.2,1033.0 1511.0,1032.9 1513.8,1033.2 C1517.2,1033.5 1520.6,1035.7 1524.0,1035.7 C1527.4,1035.7 1530.7,1035.1 1534.1,1034.9 C1540.8,1034.5 1547.6,1034.5 1554.3,1034.3 C1557.7,1034.2 1561.1,1034.0 1564.5,1034.0 C1568.1,1034.0 1571.8,1038.7 1575.4,1038.7 C1578.8,1038.7 1582.2,1034.3 1585.6,1034.3 C1588.7,1034.3 1591.8,1036.2 1594.9,1036.5 C1598.4,1036.8 1602.0,1037.0 1605.5,1037.0 C1608.1,1037.0 1610.8,1035.6 1613.4,1035.1 C1617.1,1034.4 1620.8,1034.2 1624.5,1033.8 C1629.8,1033.2 1635.0,1032.8 1640.3,1032.2 C1645.6,1031.6 1650.8,1030.3 1656.1,1030.3 C1661.4,1030.3 1666.7,1031.0 1672.0,1031.4 C1677.3,1031.8 1682.5,1031.8 1687.8,1032.7 C1691.0,1033.2 1694.1,1035.7 1697.3,1035.7 C1700.5,1035.7 1703.6,1034.6 1706.8,1034.6 C1711.0,1034.6 1715.2,1034.6 1719.4,1034.6 C1724.7,1034.6 1729.9,1037.0 1735.2,1037.8 C1740.0,1038.5 1744.7,1038.4 1749.5,1039.3 C1755.3,1040.4 1761.1,1042.3 1766.9,1044.1 C1771.1,1045.4 1775.3,1047.4 1779.5,1048.4 C1782.7,1049.1 1785.8,1049.9 1789.0,1049.9 C1793.2,1049.9 1797.5,1048.8 1801.7,1048.8 C1807.0,1048.8 1812.2,1049.4 1817.5,1049.6 C1821.7,1049.8 1826.0,1049.8 1830.2,1050.1 C1834.4,1050.4 1838.6,1051.7 1842.8,1051.7 C1848.1,1051.7 1853.4,1051.2 1858.7,1051.2 C1864.0,1051.2 1869.2,1052.1 1874.5,1052.3 C1881.7,1052.6 1888.8,1052.7 1896.0,1052.8 L1896.0,1200 L116.0,1200 Z" fill="#858789" fill-opacity="0.14"/>
<path d="M116.2,653.4 C119.3,650.7 122.5,648.1 125.6,646.6 C128.7,645.1 131.9,645.6 135.0,644.4 C141.5,642.0 148.0,636.6 154.5,631.6 C161.9,626.0 169.3,614.3 176.7,612.0 C180.4,610.9 184.0,611.4 187.7,610.3 C191.4,609.2 195.1,603.2 198.8,600.1 C205.1,594.9 211.3,587.3 217.6,587.3 C221.3,587.3 224.9,597.2 228.6,597.2 C231.7,597.2 234.9,571.7 238.0,568.6 C241.4,565.2 244.8,565.4 248.2,563.5 C252.2,561.2 256.2,557.7 260.2,555.8 C263.6,554.2 267.0,554.0 270.4,552.4 C273.2,551.0 276.1,548.7 278.9,547.3 C282.3,545.7 285.7,545.5 289.1,543.9 C292.8,542.2 296.5,538.7 300.2,537.1 C303.6,535.7 307.0,536.2 310.4,534.5 C314.1,532.6 317.8,526.7 321.5,523.5 C324.9,520.5 328.3,517.6 331.7,515.8 C334.5,514.3 337.4,512.7 340.2,512.7 C343.6,512.7 347.1,524.6 350.5,524.6 C353.9,524.6 357.3,506.9 360.7,503.0 C364.7,498.5 368.6,498.1 372.6,496.2 C378.3,493.5 384.0,492.3 389.7,490.6 C393.1,489.6 396.5,488.5 399.9,487.7 C403.9,486.7 407.9,486.6 411.9,485.4 C415.3,484.3 418.8,481.2 422.2,481.2 C425.9,481.2 429.5,482.0 433.2,482.0 C436.0,482.0 438.9,476.5 441.7,474.3 C444.8,471.9 448.0,469.9 451.1,468.4 C455.1,466.5 459.0,465.0 463.0,465.0 C466.4,465.0 469.9,478.9 473.3,478.9 C476.1,478.9 479.0,477.0 481.8,476.0 C486.3,474.5 490.9,472.4 495.4,471.4 C498.2,470.8 501.1,471.0 503.9,470.1 C507.3,469.0 510.8,464.1 514.2,463.6 C517.6,463.1 521.0,462.9 524.4,462.9 C527.8,462.9 531.2,464.1 534.6,464.1 C538.0,464.1 541.4,461.5 544.8,460.4 C548.2,459.3 551.6,459.4 555.0,457.3 C558.4,455.2 561.9,446.8 565.3,442.8 C568.7,438.8 572.1,435.8 575.5,433.4 C578.6,431.2 581.8,428.8 584.9,428.8 C588.6,428.8 592.2,445.4 595.9,445.4 C599.3,445.4 602.8,435.1 606.2,432.6 C609.0,430.5 611.9,430.6 614.7,429.5 C618.7,427.9 622.6,426.6 626.6,424.1 C629.4,422.3 632.3,418.0 635.1,417.8 C639.1,417.5 643.1,417.6 647.1,417.3 C653.6,416.8 660.2,406.2 666.7,406.2 C670.1,406.2 673.5,412.5 676.9,412.5 C680.6,412.5 684.3,406.1 688.0,405.0 C691.1,404.1 694.2,404.5 697.3,403.6 C700.7,402.6 704.1,398.0 707.5,398.0 C710.7,398.0 713.8,417.9 717.0,418.6 C720.7,419.5 724.4,419.9 728.1,419.9 C734.6,419.9 741.2,414.5 747.7,412.8 C754.5,411.0 761.4,411.7 768.2,409.4 C772.2,408.1 776.1,403.9 780.1,401.2 C782.6,399.5 785.2,396.1 787.7,396.1 C792.0,396.1 796.2,396.4 800.5,396.4 C803.9,396.4 807.4,387.7 810.8,384.2 C814.2,380.8 817.6,377.4 821.0,375.6 C823.8,374.1 826.7,373.4 829.5,373.4 C833.2,373.4 836.9,391.3 840.6,391.3 C843.7,391.3 846.8,383.8 849.9,382.8 C853.9,381.5 857.9,381.3 861.9,380.8 C865.3,380.4 868.7,380.5 872.1,379.9 C876.1,379.2 880.0,376.2 884.0,374.8 C887.4,373.6 890.8,372.6 894.2,371.9 C897.1,371.3 899.9,371.6 902.8,370.9 C905.6,370.2 908.5,366.8 911.3,366.8 C914.7,366.8 918.1,373.9 921.5,373.9 C925.2,373.9 928.9,368.8 932.6,366.3 C935.7,364.2 938.9,362.4 942.0,360.0 C945.4,357.4 948.8,350.9 952.2,350.9 C955.6,350.9 959.0,370.5 962.4,370.5 C965.8,370.5 969.2,358.0 972.6,354.3 C975.4,351.2 978.3,350.1 981.1,348.4 C985.1,346.1 989.1,345.6 993.1,343.3 C996.5,341.3 999.9,337.0 1003.3,336.1 C1006.7,335.2 1010.1,335.3 1013.5,334.7 C1016.3,334.2 1019.1,333.7 1021.9,333.1 C1025.9,332.3 1029.9,330.2 1033.9,330.2 C1037.6,330.2 1041.2,336.9 1044.9,336.9 C1048.6,336.9 1052.3,333.9 1056.0,331.4 C1058.8,329.5 1061.7,326.4 1064.5,324.6 C1068.2,322.3 1071.9,320.0 1075.6,320.0 C1079.0,320.0 1082.4,335.3 1085.8,335.3 C1088.9,335.3 1092.1,328.8 1095.2,326.3 C1101.4,321.3 1107.7,320.1 1113.9,316.9 C1121.9,312.8 1129.8,307.3 1137.8,304.2 C1144.0,301.8 1150.3,299.0 1156.5,299.0 C1160.2,299.0 1163.9,305.0 1167.6,305.0 C1171.0,305.0 1174.4,300.8 1177.8,297.3 C1180.9,294.1 1184.1,288.7 1187.2,285.4 C1190.6,281.8 1194.0,276.9 1197.4,276.9 C1200.8,276.9 1204.2,297.0 1207.6,297.0 C1211.0,297.0 1214.5,293.6 1217.9,292.2 C1221.9,290.6 1225.8,289.2 1229.8,288.3 C1232.9,287.6 1236.1,287.9 1239.2,287.1 C1242.3,286.3 1245.4,280.1 1248.5,277.2 C1254.8,271.4 1261.0,269.1 1267.3,265.0 C1271.3,262.4 1275.2,257.3 1279.2,257.3 C1282.6,257.3 1286.0,267.5 1289.4,267.5 C1292.8,267.5 1296.3,260.5 1299.7,256.5 C1303.1,252.5 1306.5,247.5 1309.9,243.7 C1313.0,240.2 1316.2,234.6 1319.3,234.6 C1322.9,234.6 1326.6,247.6 1330.2,247.6 C1333.6,247.6 1337.0,245.9 1340.4,245.9 C1344.1,245.9 1347.8,246.5 1351.5,247.6 C1354.6,248.6 1357.8,255.3 1360.9,257.8 C1364.3,260.5 1367.7,261.2 1371.1,262.9 C1373.9,264.3 1376.8,266.0 1379.6,267.2 C1383.3,268.8 1387.0,269.1 1390.7,270.6 C1394.4,272.1 1398.1,275.2 1401.8,276.1 C1405.2,277.0 1408.6,277.4 1412.0,277.4 C1415.4,277.4 1418.8,274.6 1422.2,271.5 C1425.6,268.4 1429.1,261.8 1432.5,258.7 C1435.9,255.6 1439.3,252.7 1442.7,252.7 C1446.1,252.7 1449.5,262.4 1452.9,262.4 C1456.3,262.4 1459.7,251.5 1463.1,246.8 C1468.8,239.0 1474.5,236.1 1480.2,228.0 C1484.2,222.4 1488.1,214.4 1492.1,208.4 C1496.1,202.4 1500.0,198.4 1504.0,192.2 C1506.8,187.8 1509.7,181.8 1512.5,177.7 C1516.2,172.3 1519.9,166.2 1523.6,165.0 C1527.0,163.9 1530.4,164.4 1533.8,163.3 C1536.9,162.3 1540.1,155.0 1543.2,150.5 C1547.2,144.8 1551.1,138.1 1555.1,132.6 C1558.2,128.2 1561.4,120.3 1564.5,120.3 C1568.2,120.3 1571.9,128.3 1575.6,128.3 C1578.7,128.3 1581.9,118.5 1585.0,115.6 C1588.1,112.7 1591.2,111.1 1594.3,110.8 C1601.5,110.1 1608.6,110.4 1615.8,109.7 C1619.2,109.4 1622.6,106.7 1626.0,106.7 C1629.9,106.7 1633.9,106.9 1637.8,107.3 C1641.0,107.6 1644.1,108.6 1647.3,110.5 C1650.4,112.4 1653.6,118.7 1656.7,118.7 C1660.1,118.7 1663.6,116.3 1667.0,116.3 C1670.4,116.3 1673.8,116.9 1677.2,117.6 C1680.6,118.3 1684.1,118.6 1687.5,120.7 C1690.6,122.6 1693.8,140.4 1696.9,140.4 C1700.8,140.4 1704.8,140.4 1708.7,140.4 C1711.6,140.4 1714.5,146.1 1717.4,148.3 C1720.3,150.5 1723.2,152.2 1726.1,153.8 C1729.8,155.9 1733.4,159.0 1737.1,159.0 C1741.0,159.0 1745.0,158.6 1748.9,158.6 C1752.1,158.6 1755.2,162.4 1758.4,163.0 C1762.1,163.7 1765.7,163.4 1769.4,164.1 C1772.6,164.7 1775.7,170.9 1778.9,173.1 C1782.8,175.8 1786.8,176.4 1790.7,177.5 C1797.0,179.2 1803.3,178.4 1809.6,180.1 C1812.8,181.0 1815.9,186.7 1819.1,189.3 C1822.8,192.3 1826.4,194.7 1830.1,196.4 C1833.3,197.9 1836.4,198.4 1839.6,199.5 C1843.8,200.9 1848.0,202.6 1852.2,203.8 C1856.4,205.0 1860.6,205.7 1864.8,206.6 C1869.0,207.5 1873.2,209.0 1877.4,209.0 C1883.6,209.0 1889.8,209.0 1896.0,209.0" fill="none" stroke="#d3d3d3" stroke-width="2" stroke-linejoin="round"/>
<path d="M116.2,673.0 C119.9,671.9 123.6,670.7 127.3,669.1 C133.5,666.3 139.8,660.8 146.0,658.0 C150.0,656.2 154.0,655.2 158.0,653.8 C163.7,651.8 169.3,647.8 175.0,647.8 C179.2,647.8 183.5,647.8 187.7,647.8 C191.4,647.8 195.1,641.8 198.8,639.3 C201.6,637.4 204.5,636.0 207.3,634.2 C210.7,632.0 214.2,627.4 217.6,627.4 C221.0,627.4 224.4,639.3 227.8,639.3 C231.2,639.3 234.6,619.4 238.0,614.6 C240.3,611.4 242.5,610.9 244.8,609.5 C249.4,606.7 253.9,607.8 258.5,605.2 C262.5,602.9 266.4,598.5 270.4,595.8 C276.1,592.0 281.7,587.3 287.4,587.3 C291.9,587.3 296.5,587.4 301.0,587.7 C304.1,587.9 307.3,591.6 310.4,591.6 C316.4,591.6 322.3,582.9 328.3,580.5 C332.3,578.9 336.2,577.5 340.2,577.5 C343.6,577.5 347.1,595.0 350.5,595.0 C353.9,595.0 357.3,587.2 360.7,585.6 C370.4,581.1 380.0,583.3 389.7,578.8 C393.4,577.1 397.0,571.7 400.7,571.7 C404.7,571.7 408.8,573.7 412.8,573.7 C415.9,573.7 419.1,573.2 422.2,573.2 C425.6,573.2 429.0,578.3 432.4,578.3 C436.4,578.3 440.3,578.2 444.3,577.9 C450.3,577.5 456.2,573.2 462.2,573.2 C465.3,573.2 468.5,589.3 471.6,589.3 C475.0,589.3 478.4,588.8 481.8,588.5 C488.6,588.0 495.4,587.9 502.2,586.8 C509.0,585.7 515.9,580.8 522.7,580.8 C526.7,580.8 530.6,581.7 534.6,581.7 C538.0,581.7 541.4,578.3 544.8,578.3 C548.2,578.3 551.6,584.2 555.0,584.2 C557.9,584.2 560.7,581.6 563.6,580.0 C570.7,576.1 577.8,565.2 584.9,565.2 C588.3,565.2 591.7,576.6 595.1,576.9 C598.8,577.2 602.5,577.4 606.2,577.4 C609.3,577.4 612.4,573.4 615.5,573.2 C619.8,572.9 624.0,573.0 628.3,572.7 C634.6,572.2 640.8,563.0 647.1,560.4 C649.9,559.2 652.8,558.7 655.6,557.8 C659.3,556.6 663.0,553.9 666.7,553.9 C670.1,553.9 673.5,561.2 676.9,561.2 C680.6,561.2 684.3,553.7 688.0,551.0 C691.1,548.8 694.2,547.5 697.3,545.9 C700.8,544.1 704.2,540.9 707.7,540.9 C711.1,540.9 714.5,558.8 717.9,558.8 C721.3,558.8 724.7,555.5 728.1,555.1 C731.2,554.8 734.4,554.6 737.5,554.6 C741.5,554.6 745.4,555.9 749.4,555.9 C752.2,555.9 755.1,551.8 757.9,550.3 C761.3,548.5 764.8,546.4 768.2,546.4 C771.6,546.4 775.0,547.2 778.4,547.2 C782.1,547.2 785.8,546.0 789.5,546.0 C792.9,546.0 796.3,552.3 799.7,552.3 C803.4,552.3 807.1,549.2 810.8,547.7 C813.9,546.4 817.0,545.1 820.1,544.0 C823.5,542.8 826.9,540.9 830.3,540.9 C833.7,540.9 837.2,556.6 840.6,556.6 C843.7,556.6 846.8,550.7 849.9,548.6 C853.3,546.3 856.8,544.6 860.2,544.0 C863.9,543.3 867.5,543.7 871.2,543.0 C874.3,542.4 877.5,538.7 880.6,538.7 C884.3,538.7 888.0,538.9 891.7,538.9 C895.4,538.9 899.1,538.7 902.8,538.7 C905.9,538.7 909.0,541.5 912.1,543.5 C915.2,545.5 918.4,550.8 921.5,550.8 C924.9,550.8 928.3,550.0 931.7,550.0 C935.1,550.0 938.5,550.0 941.9,550.0 C945.6,550.0 949.3,548.9 953.0,548.9 C956.4,548.9 959.9,566.8 963.3,566.8 C966.4,566.8 969.5,560.0 972.6,560.0 C976.0,560.0 979.4,560.1 982.8,560.2 C986.2,560.3 989.7,561.4 993.1,561.4 C996.5,561.4 999.9,559.7 1003.3,559.7 C1010.4,559.7 1017.4,561.7 1024.5,561.7 C1027.9,561.7 1031.3,560.5 1034.7,560.5 C1037.8,560.5 1041.0,566.7 1044.1,566.8 C1048.1,566.9 1052.0,567.0 1056.0,567.0 C1058.8,567.0 1061.7,564.5 1064.5,563.9 C1068.2,563.1 1071.9,562.7 1075.6,562.7 C1078.7,562.7 1081.9,577.2 1085.0,577.2 C1088.4,577.2 1091.8,563.6 1095.2,561.9 C1098.6,560.2 1102.0,560.5 1105.4,559.3 C1109.4,557.8 1113.3,554.9 1117.3,553.4 C1121.3,551.9 1125.3,551.1 1129.3,550.3 C1135.0,549.2 1140.6,548.6 1146.3,548.6 C1150.0,548.6 1153.7,548.6 1157.4,548.6 C1160.5,548.6 1163.7,554.6 1166.8,554.6 C1170.5,554.6 1174.1,552.3 1177.8,551.7 C1184.3,550.6 1190.9,550.0 1197.4,550.0 C1200.8,550.0 1204.2,565.3 1207.6,565.3 C1210.7,565.3 1213.9,555.4 1217.0,553.7 C1220.1,552.0 1223.3,552.0 1226.4,551.2 C1230.4,550.2 1234.3,549.7 1238.3,548.3 C1242.9,546.7 1247.4,543.8 1252.0,542.1 C1256.5,540.4 1261.1,539.2 1265.6,538.0 C1270.1,536.8 1274.7,535.0 1279.2,535.0 C1282.9,535.0 1286.6,539.2 1290.3,539.2 C1293.4,539.2 1296.6,535.8 1299.7,534.1 C1303.1,532.2 1306.5,529.9 1309.9,528.5 C1313.3,527.1 1316.7,525.6 1320.1,525.6 C1323.5,525.6 1326.8,538.9 1330.2,538.9 C1333.6,538.9 1337.0,533.0 1340.4,530.9 C1343.5,529.0 1346.7,526.6 1349.8,526.6 C1353.5,526.6 1357.2,526.8 1360.9,527.3 C1364.3,527.7 1367.7,530.0 1371.1,531.5 C1374.5,533.0 1377.9,534.5 1381.3,536.3 C1384.4,538.0 1387.6,541.8 1390.7,541.8 C1394.4,541.8 1398.1,541.4 1401.8,541.4 C1405.2,541.4 1408.6,545.3 1412.0,545.3 C1415.4,545.3 1418.8,542.7 1422.2,540.6 C1425.6,538.5 1429.1,534.9 1432.5,532.6 C1435.9,530.3 1439.3,526.9 1442.7,526.9 C1446.1,526.9 1449.5,535.5 1452.9,535.5 C1456.3,535.5 1459.7,523.2 1463.1,522.3 C1468.8,520.8 1474.5,521.6 1480.2,520.1 C1484.7,518.9 1489.3,516.2 1493.8,514.2 C1498.9,511.9 1504.0,509.7 1509.1,507.0 C1513.7,504.5 1518.2,498.8 1522.8,498.8 C1527.0,498.8 1531.3,500.2 1535.5,500.2 C1538.6,500.2 1541.8,494.9 1544.9,492.5 C1548.0,490.1 1551.2,487.8 1554.3,486.0 C1558.0,483.8 1561.7,480.9 1565.4,480.9 C1568.8,480.9 1572.2,490.0 1575.6,490.0 C1578.7,490.0 1581.9,479.0 1585.0,475.0 C1589.0,469.9 1592.9,467.0 1596.9,464.7 C1600.0,462.9 1603.2,463.5 1606.3,461.2 C1609.2,459.0 1612.1,450.4 1615.0,450.0 C1618.4,449.5 1621.8,449.8 1625.2,449.3 C1628.9,448.8 1632.5,446.2 1636.2,446.2 C1639.4,446.2 1642.5,447.4 1645.7,448.5 C1649.6,449.8 1653.6,452.6 1657.5,453.9 C1661.4,455.2 1665.4,455.7 1669.3,456.3 C1671.9,456.7 1674.6,456.7 1677.2,457.1 C1680.6,457.7 1684.1,457.9 1687.5,459.6 C1690.6,461.1 1693.8,469.8 1696.9,469.8 C1700.6,469.8 1704.3,468.2 1708.0,468.2 C1711.4,468.2 1714.8,470.0 1718.2,470.9 C1721.6,471.8 1725.0,473.8 1728.4,473.8 C1731.8,473.8 1735.3,471.7 1738.7,471.7 C1742.4,471.7 1746.0,473.3 1749.7,474.5 C1755.5,476.3 1761.3,479.0 1767.1,481.6 C1771.3,483.5 1775.5,485.9 1779.7,487.5 C1782.8,488.7 1786.0,490.3 1789.1,490.3 C1792.8,490.3 1796.5,489.8 1800.2,489.8 C1803.3,489.8 1806.5,490.9 1809.6,492.7 C1812.8,494.5 1815.9,500.6 1819.1,500.6 C1822.8,500.6 1826.4,498.5 1830.1,498.5 C1833.3,498.5 1836.4,499.8 1839.6,500.9 C1842.7,501.9 1845.9,504.6 1849.0,504.8 C1853.2,505.1 1857.4,505.0 1861.6,505.3 C1865.3,505.6 1869.0,507.4 1872.7,508.0 C1875.8,508.5 1879.0,508.7 1882.1,508.7 C1886.7,508.7 1891.4,508.7 1896.0,508.7" fill="none" stroke="#465d74" stroke-width="2" stroke-linejoin="round"/>
<path d="M116.2,1118.8 C122.2,1118.1 128.1,1117.3 134.1,1116.3 C141.5,1115.0 148.8,1114.0 156.2,1111.7 C162.5,1109.8 168.7,1106.2 175.0,1104.3 C179.0,1103.1 182.9,1103.1 186.9,1101.4 C190.9,1099.7 194.8,1096.2 198.8,1094.1 C205.1,1090.8 211.3,1086.8 217.6,1086.8 C221.3,1086.8 224.9,1089.0 228.6,1089.0 C231.7,1089.0 234.9,1079.2 238.0,1077.1 C241.4,1074.8 244.8,1075.0 248.2,1073.7 C255.0,1071.0 261.9,1066.2 268.7,1063.5 C274.9,1061.0 281.2,1060.2 287.4,1057.8 C291.4,1056.3 295.4,1053.2 299.4,1052.7 C302.8,1052.2 306.2,1052.5 309.6,1052.0 C313.0,1051.5 316.4,1049.0 319.8,1048.1 C323.2,1047.2 326.6,1046.8 330.0,1046.8 C333.7,1046.8 337.4,1047.2 341.1,1048.1 C344.5,1048.9 347.9,1057.0 351.3,1057.0 C355.0,1057.0 358.7,1051.4 362.4,1050.7 C368.1,1049.6 373.7,1049.6 379.4,1049.0 C383.4,1048.6 387.4,1047.8 391.4,1047.8 C394.8,1047.8 398.2,1048.3 401.6,1048.3 C405.0,1048.3 408.4,1047.8 411.8,1047.8 C414.6,1047.8 417.4,1048.4 420.2,1049.0 C424.2,1049.8 428.2,1051.8 432.2,1052.7 C436.2,1053.5 440.1,1053.6 444.1,1054.1 C450.3,1054.9 456.6,1054.9 462.8,1056.6 C466.2,1057.5 469.6,1066.0 473.0,1066.0 C476.4,1066.0 479.9,1061.7 483.3,1061.7 C487.3,1061.7 491.2,1061.9 495.2,1062.1 C500.9,1062.4 506.5,1063.0 512.2,1063.8 C519.0,1064.8 525.9,1067.7 532.7,1067.7 C537.2,1067.7 541.8,1066.5 546.3,1066.5 C550.3,1066.5 554.2,1066.9 558.2,1066.9 C560.5,1066.9 562.7,1065.9 565.0,1065.2 C568.4,1064.2 571.9,1061.4 575.3,1061.4 C578.7,1061.4 582.1,1061.6 585.5,1062.1 C588.9,1062.6 592.3,1066.9 595.7,1066.9 C599.1,1066.9 602.5,1061.3 605.9,1060.0 C608.8,1058.9 611.6,1058.5 614.5,1058.3 C619.0,1058.0 623.6,1058.1 628.1,1057.8 C630.9,1057.6 633.8,1057.0 636.6,1056.6 C642.3,1055.8 648.0,1055.8 653.7,1054.1 C657.7,1052.9 661.6,1049.0 665.6,1049.0 C671.3,1049.0 676.9,1049.8 682.6,1049.8 C687.1,1049.8 691.7,1046.0 696.2,1044.4 C699.9,1043.1 703.6,1041.0 707.3,1041.0 C710.7,1041.0 714.1,1050.7 717.5,1050.7 C720.9,1050.7 724.3,1039.5 727.7,1038.8 C731.4,1038.0 735.0,1037.6 738.7,1037.6 C742.4,1037.6 746.1,1039.3 749.8,1039.3 C752.9,1039.3 756.1,1037.0 759.2,1036.7 C762.6,1036.4 766.0,1036.2 769.4,1036.2 C772.5,1036.2 775.7,1037.9 778.8,1037.9 C782.2,1037.9 785.6,1032.5 789.0,1032.5 C792.7,1032.5 796.4,1035.0 800.1,1035.0 C803.5,1035.0 806.9,1031.3 810.3,1029.9 C816.8,1027.3 823.4,1025.6 829.9,1025.6 C833.3,1025.6 836.7,1035.0 840.1,1035.0 C843.5,1035.0 846.9,1027.7 850.3,1025.6 C853.4,1023.6 856.6,1022.2 859.7,1022.2 C863.7,1022.2 867.6,1022.2 871.6,1022.2 C875.0,1022.2 878.5,1019.0 881.9,1018.8 C888.4,1018.5 895.0,1018.6 901.5,1018.3 C904.6,1018.1 907.7,1014.6 910.8,1014.1 C915.4,1013.3 919.9,1013.5 924.5,1012.9 C930.2,1012.1 935.8,1010.8 941.5,1009.5 C945.2,1008.7 948.9,1006.9 952.6,1006.9 C956.0,1006.9 959.4,1015.1 962.8,1015.1 C965.9,1015.1 969.1,1007.0 972.2,1004.7 C975.6,1002.2 979.0,1001.9 982.4,1000.9 C985.8,999.9 989.2,999.7 992.6,998.9 C998.3,997.5 1004.0,994.7 1009.7,993.6 C1014.8,992.6 1019.9,993.1 1025.0,992.1 C1028.4,991.4 1031.7,987.0 1035.1,987.0 C1038.5,987.0 1041.9,987.9 1045.3,987.9 C1051.6,987.9 1057.8,978.4 1064.1,975.5 C1067.8,973.8 1071.5,971.7 1075.2,971.7 C1078.6,971.7 1082.0,980.6 1085.4,980.6 C1088.8,980.6 1092.2,966.1 1095.6,965.6 C1099.0,965.1 1102.4,965.4 1105.8,964.9 C1112.3,964.0 1118.9,953.3 1125.4,953.0 C1132.5,952.7 1139.6,952.8 1146.7,952.5 C1150.1,952.3 1153.5,947.5 1156.9,946.5 C1160.0,945.6 1163.2,946.0 1166.3,945.1 C1170.3,943.9 1174.2,940.8 1178.2,939.2 C1184.7,936.6 1191.3,934.9 1197.8,934.9 C1201.0,934.9 1204.3,945.6 1207.5,945.6 C1210.8,945.6 1214.1,934.2 1217.4,934.2 C1220.8,934.2 1224.2,934.5 1227.6,935.1 C1231.0,935.7 1234.5,938.0 1237.9,938.0 C1241.9,938.0 1245.8,934.6 1249.8,933.7 C1252.6,933.0 1255.5,932.5 1258.3,932.5 C1262.0,932.5 1265.7,934.0 1269.4,934.0 C1275.4,934.0 1281.3,931.5 1287.3,929.5 C1291.3,928.1 1295.2,926.5 1299.2,924.7 C1302.6,923.2 1306.0,919.7 1309.4,919.7 C1312.8,919.7 1316.3,920.0 1319.7,920.6 C1323.4,921.2 1327.0,928.6 1330.7,928.6 C1333.8,928.6 1337.0,924.9 1340.1,924.9 C1346.3,924.9 1352.5,926.2 1358.7,928.8 C1363.3,930.7 1367.8,935.0 1372.4,937.3 C1375.8,939.0 1379.2,939.8 1382.6,941.6 C1386.6,943.7 1390.5,947.3 1394.5,949.3 C1403.6,953.8 1412.7,956.1 1421.8,956.1 C1428.6,956.1 1435.4,951.8 1442.2,951.8 C1445.9,951.8 1449.6,956.1 1453.3,956.1 C1456.4,956.1 1459.6,949.1 1462.7,948.8 C1467.2,948.3 1471.8,948.6 1476.3,948.1 C1482.0,947.5 1487.6,943.2 1493.3,941.6 C1500.1,939.7 1507.0,940.6 1513.8,938.5 C1517.2,937.5 1520.6,928.1 1524.0,927.6 C1527.4,927.1 1530.8,927.3 1534.2,926.8 C1539.9,925.9 1545.6,915.7 1551.3,911.8 C1555.8,908.7 1560.4,904.5 1564.9,904.5 C1568.3,904.5 1571.7,911.8 1575.1,911.8 C1579.1,911.8 1583.1,899.4 1587.1,897.3 C1593.5,893.9 1599.9,895.6 1606.3,892.2 C1609.5,890.5 1612.6,886.2 1615.8,883.8 C1619.5,881.0 1623.1,878.8 1626.8,877.1 C1629.7,875.7 1632.6,875.4 1635.5,873.9 C1639.2,872.0 1642.8,866.7 1646.5,866.0 C1649.4,865.5 1652.3,865.7 1655.2,865.2 C1658.9,864.5 1662.5,861.4 1666.2,859.7 C1669.9,858.0 1673.5,855.6 1677.2,855.0 C1680.6,854.5 1684.1,854.2 1687.5,854.2 C1690.9,854.2 1694.3,860.2 1697.7,860.2 C1701.1,860.2 1704.6,856.2 1708.0,856.2 C1711.4,856.2 1714.8,857.0 1718.2,858.1 C1721.4,859.2 1724.5,861.9 1727.7,862.6 C1731.4,863.4 1735.0,863.0 1738.7,863.8 C1742.4,864.6 1746.0,866.3 1749.7,867.3 C1755.5,868.8 1761.3,868.3 1767.1,870.4 C1770.8,871.7 1774.4,874.5 1778.1,876.7 C1781.8,878.9 1785.4,883.8 1789.1,883.8 C1792.8,883.8 1796.5,883.0 1800.2,883.0 C1803.3,883.0 1806.5,885.4 1809.6,887.0 C1812.8,888.6 1815.9,891.9 1819.1,892.5 C1822.8,893.2 1826.4,893.1 1830.1,893.6 C1834.8,894.3 1839.6,895.6 1844.3,896.4 C1849.5,897.3 1854.8,898.5 1860.0,898.5 C1863.7,898.5 1867.4,898.5 1871.1,898.5 C1874.8,898.5 1878.4,896.6 1882.1,895.3 C1884.7,894.4 1887.4,892.2 1890.0,892.2 C1892.0,892.2 1894.0,892.2 1896.0,892.2" fill="none" stroke="#a3a7ab" stroke-width="2" stroke-linejoin="round"/>
<path d="M116.2,1163.6 C119.3,1163.5 122.5,1163.4 125.6,1163.1 C129.6,1162.7 133.5,1161.1 137.5,1160.9 C140.9,1160.7 144.3,1160.8 147.7,1160.6 C154.0,1160.2 160.2,1154.7 166.5,1153.2 C169.9,1152.4 173.3,1151.7 176.7,1151.7 C180.4,1151.7 184.0,1152.0 187.7,1152.0 C194.8,1152.0 201.9,1145.6 209.0,1144.4 C212.4,1143.8 215.9,1143.5 219.3,1143.5 C222.4,1143.5 225.5,1144.4 228.6,1144.4 C231.7,1144.4 234.9,1133.2 238.0,1130.8 C240.3,1129.1 242.5,1128.8 244.8,1128.2 C249.9,1126.9 255.1,1126.9 260.2,1126.2 C265.9,1125.5 271.5,1125.5 277.2,1124.0 C281.7,1122.8 286.3,1119.9 290.8,1118.8 C293.7,1118.1 296.5,1118.2 299.4,1117.6 C303.4,1116.8 307.3,1115.2 311.3,1114.2 C314.7,1113.3 318.1,1112.7 321.5,1111.7 C324.9,1110.7 328.3,1109.2 331.7,1108.3 C334.8,1107.5 338.0,1106.6 341.1,1106.6 C344.5,1106.6 347.9,1109.1 351.3,1109.1 C354.4,1109.1 357.6,1101.8 360.7,1100.9 C368.1,1098.9 375.4,1099.9 382.8,1097.9 C388.5,1096.4 394.2,1093.0 399.9,1091.2 C403.3,1090.1 406.6,1089.8 410.0,1088.5 C414.3,1086.9 418.5,1083.2 422.8,1081.9 C425.9,1081.0 429.1,1081.3 432.2,1080.5 C436.2,1079.5 440.1,1077.1 444.1,1076.2 C450.3,1074.7 456.6,1074.0 462.8,1074.0 C466.5,1074.0 470.2,1076.7 473.9,1076.7 C481.0,1076.7 488.1,1069.4 495.2,1067.4 C500.9,1065.8 506.5,1066.0 512.2,1064.8 C516.8,1063.8 521.3,1062.7 525.9,1061.2 C532.1,1059.2 538.4,1055.6 544.6,1053.6 C549.1,1052.2 553.7,1051.8 558.2,1050.2 C563.3,1048.3 568.5,1044.7 573.6,1042.7 C577.6,1041.2 581.5,1039.1 585.5,1039.1 C589.2,1039.1 592.9,1039.9 596.6,1039.9 C600.3,1039.9 603.9,1035.2 607.6,1033.3 C613.9,1030.0 620.1,1028.7 626.4,1026.0 C629.8,1024.5 633.2,1022.1 636.6,1021.4 C640.0,1020.7 643.4,1021.0 646.8,1020.3 C650.5,1019.5 654.2,1015.3 657.9,1014.0 C661.0,1012.9 664.2,1013.0 667.3,1012.3 C670.7,1011.5 674.1,1010.8 677.5,1009.4 C680.6,1008.1 683.8,1005.6 686.9,1004.2 C692.9,1001.5 698.8,1000.1 704.8,999.9 C709.6,999.7 714.5,999.8 719.3,999.6 C722.1,999.5 724.9,996.2 727.7,995.3 C731.1,994.2 734.5,994.5 737.9,993.6 C745.0,991.8 752.1,986.1 759.2,983.9 C762.0,983.0 764.9,982.8 767.7,981.7 C772.2,980.0 776.8,975.8 781.3,974.2 C785.3,972.8 789.3,972.8 793.3,972.0 C802.4,970.3 811.4,966.9 820.5,966.3 C823.6,966.1 826.8,966.0 829.9,966.0 C833.3,966.0 836.7,970.3 840.1,970.3 C843.8,970.3 847.5,966.1 851.2,964.6 C857.4,962.1 863.7,961.9 869.9,960.6 C874.5,959.6 879.0,958.5 883.6,957.8 C885.9,957.5 888.1,957.4 890.4,957.0 C896.1,956.0 901.7,953.4 907.4,951.9 C913.1,950.4 918.8,949.5 924.5,948.1 C930.2,946.7 935.8,944.1 941.5,943.5 C944.9,943.2 948.3,943.0 951.7,943.0 C955.7,943.0 959.7,944.7 963.7,944.7 C968.8,944.7 973.9,939.5 979.0,937.5 C984.7,935.3 990.3,934.1 996.0,932.3 C1001.7,930.5 1007.4,928.3 1013.1,926.5 C1018.7,924.8 1024.4,922.9 1030.0,921.8 C1031.7,921.5 1033.4,920.9 1035.1,920.9 C1038.5,920.9 1041.9,922.3 1045.3,922.3 C1049.3,922.3 1053.3,917.4 1057.3,915.5 C1063.0,912.8 1068.6,909.5 1074.3,909.5 C1078.3,909.5 1082.2,910.7 1086.2,910.7 C1089.6,910.7 1093.1,904.8 1096.5,903.0 C1099.9,901.2 1103.3,900.6 1106.7,900.0 C1113.2,898.9 1119.8,899.5 1126.3,898.4 C1131.1,897.6 1136.0,892.5 1140.8,890.6 C1147.0,888.1 1153.3,888.1 1159.5,886.3 C1165.7,884.4 1172.0,881.2 1178.2,879.5 C1184.5,877.8 1190.7,876.3 1197.0,876.3 C1200.7,876.3 1204.4,878.8 1208.1,878.8 C1214.6,878.8 1221.1,874.2 1227.6,872.7 C1233.9,871.2 1240.1,871.2 1246.4,869.8 C1250.9,868.8 1255.5,866.9 1260.0,865.9 C1265.1,864.7 1270.3,864.1 1275.4,863.5 C1283.3,862.5 1291.3,862.6 1299.2,861.8 C1306.0,861.1 1312.9,859.3 1319.7,859.3 C1324.2,859.3 1328.8,861.0 1333.3,861.6 C1339.2,862.3 1345.2,862.0 1351.1,862.7 C1354.8,863.2 1358.5,868.9 1362.2,870.9 C1366.2,873.0 1370.1,874.6 1374.1,874.6 C1383.2,874.6 1392.2,872.9 1401.3,872.9 C1408.1,872.9 1415.0,873.3 1421.8,874.0 C1428.6,874.7 1435.4,876.1 1442.2,877.4 C1449.0,878.7 1455.9,881.1 1462.7,882.0 C1472.9,883.3 1483.1,882.7 1493.3,884.0 C1497.9,884.6 1502.4,885.9 1507.0,886.7 C1516.6,888.3 1526.3,889.2 1535.9,889.6 C1542.7,889.9 1549.6,889.7 1556.4,890.0 C1562.6,890.2 1568.9,892.9 1575.1,893.9 C1582.5,895.1 1589.9,895.6 1597.3,896.5 C1607.1,897.7 1617.0,898.3 1626.8,900.4 C1632.6,901.6 1638.3,903.6 1644.1,904.8 C1652.5,906.6 1660.9,907.5 1669.3,908.7 C1678.8,910.1 1688.2,912.1 1697.7,912.5 C1705.1,912.8 1712.4,912.7 1719.8,913.0 C1727.1,913.3 1734.5,914.3 1741.8,914.6 C1748.1,914.9 1754.5,914.8 1760.8,915.0 C1767.6,915.3 1774.4,915.6 1781.2,916.1 C1787.5,916.6 1793.9,918.0 1800.2,918.0 C1803.9,918.0 1807.5,917.7 1811.2,917.7 C1821.2,917.7 1831.1,919.8 1841.1,920.4 C1850.0,920.9 1859.0,920.9 1867.9,921.2 C1877.3,921.5 1886.6,921.7 1896.0,922.0" fill="none" stroke="#75797d" stroke-width="2" stroke-linejoin="round"/>
<path d="M116.0,1179.0 C119.8,1177.4 123.5,1175.7 127.3,1174.5 C131.3,1173.2 135.2,1172.4 139.2,1171.6 C144.9,1170.5 150.5,1170.5 156.2,1169.6 C160.2,1169.0 164.2,1167.8 168.2,1167.4 C171.6,1167.1 175.0,1167.2 178.4,1166.9 C181.8,1166.6 185.2,1165.0 188.6,1164.8 C195.4,1164.5 202.2,1164.6 209.0,1164.3 C211.9,1164.2 214.7,1162.6 217.6,1162.6 C221.3,1162.6 224.9,1164.5 228.6,1164.5 C231.7,1164.5 234.9,1161.8 238.0,1161.8 C241.7,1161.8 245.4,1162.8 249.1,1162.8 C252.2,1162.8 255.4,1159.3 258.5,1158.9 C264.2,1158.1 269.8,1158.5 275.5,1157.7 C281.2,1156.9 286.8,1155.3 292.5,1154.1 C298.2,1152.9 303.9,1151.9 309.6,1150.4 C315.8,1148.7 322.1,1144.4 328.3,1144.4 C332.3,1144.4 336.2,1144.6 340.2,1144.9 C343.6,1145.2 347.1,1147.8 350.5,1147.8 C355.0,1147.8 359.6,1143.9 364.1,1143.9 C368.1,1143.9 372.0,1143.9 376.0,1143.9 C381.1,1143.9 386.3,1146.6 391.4,1146.6 C394.2,1146.6 397.1,1144.2 399.9,1143.9 C404.4,1143.4 409.0,1143.6 413.5,1143.2 C418.6,1142.8 423.6,1142.2 428.7,1141.3 C433.8,1140.4 439.0,1139.0 444.1,1137.9 C450.3,1136.6 456.6,1134.8 462.8,1134.2 C466.5,1133.9 470.2,1134.0 473.9,1133.7 C477.6,1133.4 481.3,1128.5 485.0,1127.0 C487.8,1125.8 490.7,1124.8 493.5,1124.8 C496.9,1124.8 500.3,1125.6 503.7,1125.6 C507.7,1125.6 511.6,1122.2 515.6,1121.4 C521.3,1120.3 527.0,1120.6 532.7,1119.7 C537.2,1119.0 541.8,1117.7 546.3,1116.8 C552.0,1115.7 557.7,1113.7 563.4,1113.7 C570.8,1113.7 578.1,1114.0 585.5,1114.6 C588.9,1114.9 592.3,1118.8 595.7,1118.8 C602.0,1118.8 608.2,1113.7 614.5,1112.0 C620.2,1110.4 625.8,1109.7 631.5,1108.6 C640.6,1106.8 649.7,1103.8 658.8,1103.5 C668.4,1103.2 678.1,1103.3 687.7,1103.0 C691.7,1102.9 695.7,1100.1 699.7,1099.2 C702.2,1098.6 704.8,1098.0 707.3,1098.0 C711.0,1098.0 714.7,1100.9 718.4,1100.9 C728.0,1100.9 737.7,1093.6 747.3,1091.2 C757.5,1088.6 767.7,1087.8 777.9,1086.1 C781.3,1085.5 784.8,1085.4 788.2,1084.4 C791.6,1083.4 795.0,1080.8 798.4,1080.2 C804.6,1079.1 810.9,1079.6 817.1,1078.5 C821.4,1077.7 825.6,1075.1 829.9,1075.1 C833.3,1075.1 836.7,1079.0 840.1,1079.0 C843.8,1079.0 847.5,1074.4 851.2,1073.3 C855.7,1072.0 860.3,1071.9 864.8,1071.3 C873.3,1070.2 881.9,1068.7 890.4,1068.7 C894.7,1068.7 898.9,1070.3 903.2,1070.3 C906.3,1070.3 909.4,1069.4 912.5,1069.1 C919.3,1068.5 926.2,1068.8 933.0,1068.2 C936.1,1067.9 939.3,1065.2 942.4,1065.2 C946.6,1065.2 950.9,1065.2 955.1,1065.2 C957.7,1065.2 960.2,1067.4 962.8,1067.4 C965.9,1067.4 969.1,1061.3 972.2,1060.6 C975.0,1060.0 977.9,1059.7 980.7,1059.7 C984.7,1059.7 988.6,1059.9 992.6,1060.1 C996.6,1060.3 1000.5,1061.1 1004.5,1061.1 C1007.9,1061.1 1011.4,1060.2 1014.8,1060.2 C1017.6,1060.2 1020.5,1061.0 1023.3,1061.4 C1026.7,1061.9 1030.1,1062.8 1033.5,1062.8 C1036.8,1062.8 1040.2,1062.2 1043.5,1062.2 C1047.2,1062.2 1050.8,1063.5 1054.5,1063.5 C1057.6,1063.5 1060.7,1063.2 1063.8,1062.7 C1067.4,1062.1 1071.1,1060.2 1074.7,1060.2 C1078.4,1060.2 1082.0,1062.7 1085.7,1062.7 C1091.9,1062.7 1098.1,1055.9 1104.3,1055.9 C1109.9,1055.9 1115.5,1055.9 1121.1,1055.9 C1126.7,1055.9 1132.4,1057.1 1138.0,1057.1 C1141.4,1057.1 1144.7,1057.0 1148.1,1056.8 C1153.7,1056.5 1159.4,1055.0 1165.0,1053.8 C1170.6,1052.6 1176.3,1050.9 1181.9,1049.7 C1187.0,1048.6 1192.0,1046.7 1197.1,1046.7 C1200.5,1046.7 1203.8,1050.5 1207.2,1050.5 C1211.1,1050.5 1215.1,1046.8 1219.0,1045.8 C1222.4,1044.9 1225.8,1045.3 1229.2,1044.5 C1232.6,1043.8 1235.9,1041.9 1239.3,1041.3 C1242.7,1040.7 1246.0,1041.0 1249.4,1040.4 C1252.2,1039.9 1255.0,1038.2 1257.8,1038.2 C1261.8,1038.2 1265.7,1039.1 1269.7,1039.1 C1272.8,1039.1 1275.8,1037.4 1278.9,1037.4 C1282.6,1037.4 1286.2,1038.7 1289.9,1038.7 C1293.3,1038.7 1296.6,1037.7 1300.0,1037.7 C1306.8,1037.7 1313.5,1037.7 1320.3,1037.7 C1323.7,1037.7 1327.0,1039.4 1330.4,1039.4 C1333.8,1039.4 1337.1,1037.6 1340.5,1037.4 C1347.6,1037.1 1354.8,1037.2 1361.9,1036.9 C1368.1,1036.6 1374.3,1031.7 1380.5,1030.3 C1387.8,1028.6 1395.1,1027.8 1402.4,1027.8 C1405.8,1027.8 1409.2,1028.6 1412.6,1029.8 C1415.4,1030.8 1418.2,1033.5 1421.0,1033.7 C1427.8,1034.1 1434.5,1033.9 1441.3,1034.3 C1444.9,1034.5 1448.6,1037.7 1452.2,1037.7 C1455.9,1037.7 1459.5,1034.8 1463.2,1034.0 C1466.6,1033.2 1469.9,1032.8 1473.3,1032.8 C1476.7,1032.8 1480.1,1033.7 1483.5,1033.7 C1486.6,1033.7 1489.6,1031.1 1492.7,1031.1 C1496.9,1031.1 1501.2,1032.5 1505.4,1032.8 C1508.2,1033.0 1511.0,1032.9 1513.8,1033.2 C1517.2,1033.5 1520.6,1035.7 1524.0,1035.7 C1527.4,1035.7 1530.7,1035.1 1534.1,1034.9 C1540.8,1034.5 1547.6,1034.5 1554.3,1034.3 C1557.7,1034.2 1561.1,1034.0 1564.5,1034.0 C1568.1,1034.0 1571.8,1038.7 1575.4,1038.7 C1578.8,1038.7 1582.2,1034.3 1585.6,1034.3 C1588.7,1034.3 1591.8,1036.2 1594.9,1036.5 C1598.4,1036.8 1602.0,1037.0 1605.5,1037.0 C1608.1,1037.0 1610.8,1035.6 1613.4,1035.1 C1617.1,1034.4 1620.8,1034.2 1624.5,1033.8 C1629.8,1033.2 1635.0,1032.8 1640.3,1032.2 C1645.6,1031.6 1650.8,1030.3 1656.1,1030.3 C1661.4,1030.3 1666.7,1031.0 1672.0,1031.4 C1677.3,1031.8 1682.5,1031.8 1687.8,1032.7 C1691.0,1033.2 1694.1,1035.7 1697.3,1035.7 C1700.5,1035.7 1703.6,1034.6 1706.8,1034.6 C1711.0,1034.6 1715.2,1034.6 1719.4,1034.6 C1724.7,1034.6 1729.9,1037.0 1735.2,1037.8 C1740.0,1038.5 1744.7,1038.4 1749.5,1039.3 C1755.3,1040.4 1761.1,1042.3 1766.9,1044.1 C1771.1,1045.4 1775.3,1047.4 1779.5,1048.4 C1782.7,1049.1 1785.8,1049.9 1789.0,1049.9 C1793.2,1049.9 1797.5,1048.8 1801.7,1048.8 C1807.0,1048.8 1812.2,1049.4 1817.5,1049.6 C1821.7,1049.8 1826.0,1049.8 1830.2,1050.1 C1834.4,1050.4 1838.6,1051.7 1842.8,1051.7 C1848.1,1051.7 1853.4,1051.2 1858.7,1051.2 C1864.0,1051.2 1869.2,1052.1 1874.5,1052.3 C1881.7,1052.6 1888.8,1052.7 1896.0,1052.8" fill="none" stroke="#8a8e92" stroke-width="2" stroke-linejoin="round"/>
</svg>
</body></html>
